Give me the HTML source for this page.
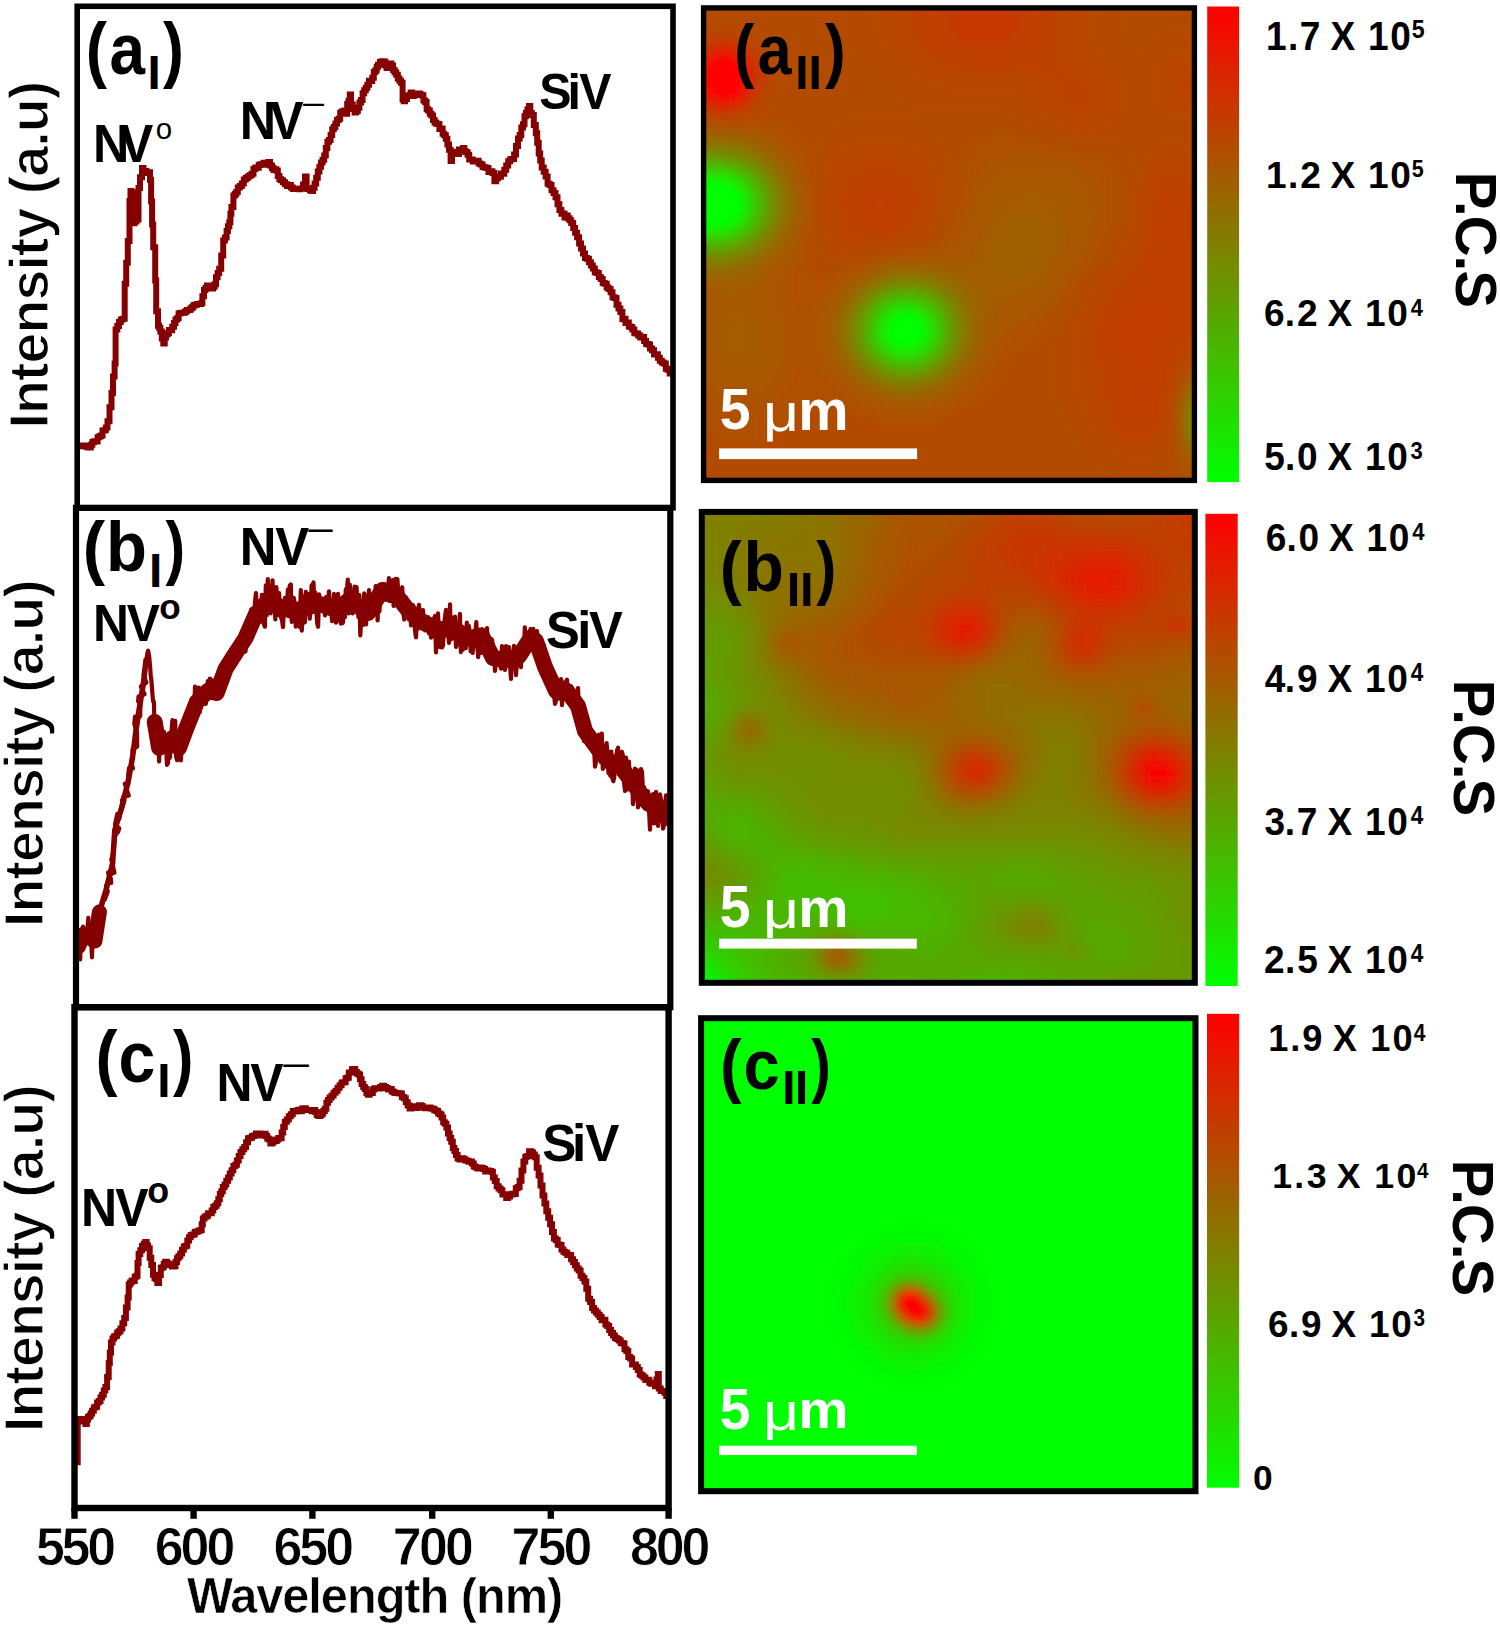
<!DOCTYPE html>
<html><head><meta charset="utf-8"><title>Figure</title>
<style>html,body{margin:0;padding:0;background:#fff;overflow:hidden;} svg{display:block;}</style>
</head><body>
<svg width="1500" height="1625" viewBox="0 0 1500 1625">
<rect x="0" y="0" width="1500" height="1625" fill="#fff"/>
<clipPath id="ha"><rect x="704" y="9" width="490" height="472"/></clipPath>
<filter id="haf" x="660" y="-35" width="578" height="560" filterUnits="userSpaceOnUse"><feGaussianBlur stdDeviation="4"/></filter>
<g clip-path="url(#ha)"><g filter="url(#haf)">
<path fill="rgb(178,76,0)" d="M680 -15h176v8h-176zM1112 -15h112v8h-112zM680 -7h168v8h-168zM1112 -7h112v8h-112zM680 1h168v8h-168zM1120 1h104v8h-104zM680 9h168v8h-168zM1120 9h104v8h-104zM680 17h168v8h-168zM1120 17h104v8h-104zM680 25h16v8h-16zM752 25h96v8h-96zM1120 25h104v8h-104zM680 33h8v8h-8zM760 33h88v8h-88zM1120 33h48v8h-48zM1200 33h24v8h-24zM768 41h88v8h-88zM1128 41h24v8h-24zM1208 41h16v8h-16zM768 49h88v8h-88zM1136 49h8v8h-8zM1216 49h8v8h-8zM776 57h88v8h-88zM776 65h96v8h-96zM776 73h104v8h-104zM776 81h112v8h-112zM776 89h120v8h-120zM768 97h144v8h-144zM680 105h8v8h-8zM768 105h240v8h-240zM688 113h16v8h-16zM752 113h272v8h-272zM1216 113h8v8h-8zM784 121h64v8h-64zM920 121h120v8h-120zM1216 121h8v8h-8zM792 129h40v8h-40zM928 129h64v8h-64zM1016 129h40v8h-40zM1208 129h16v8h-16zM800 137h24v8h-24zM936 137h40v8h-40zM1040 137h88v8h-88zM1216 137h8v8h-8zM808 145h16v8h-16zM936 145h32v8h-32zM1072 145h64v8h-64zM1216 145h8v8h-8zM808 153h16v8h-16zM944 153h24v8h-24zM1104 153h32v8h-32zM1216 153h8v8h-8zM808 161h8v8h-8zM944 161h16v8h-16zM1112 161h24v8h-24zM808 169h8v8h-8zM944 169h16v8h-16zM1120 169h16v8h-16zM944 177h16v8h-16zM1120 177h8v8h-8zM944 185h16v8h-16zM1120 185h8v8h-8zM944 193h16v8h-16zM1120 193h8v8h-8zM944 201h8v8h-8zM1120 201h8v8h-8zM944 209h8v8h-8zM1120 209h8v8h-8zM944 217h8v8h-8zM1120 217h8v8h-8zM936 225h8v8h-8zM1112 225h16v8h-16zM808 233h8v8h-8zM928 233h16v8h-16zM1112 233h8v8h-8zM808 241h16v8h-16zM912 241h16v8h-16zM1104 241h16v8h-16zM808 249h16v8h-16zM872 249h24v8h-24zM1104 249h8v8h-8zM808 257h56v8h-56zM1096 257h16v8h-16zM808 265h32v8h-32zM1088 265h16v8h-16zM816 273h8v8h-8zM1088 273h8v8h-8zM1080 281h8v8h-8zM1072 289h16v8h-16zM1072 297h8v8h-8zM1064 305h16v8h-16zM1056 313h16v8h-16zM1056 321h16v8h-16zM1048 329h16v8h-16zM1040 337h24v8h-24zM1032 345h24v8h-24zM1016 353h40v8h-40zM1200 353h8v8h-8zM1008 361h48v8h-48zM1184 361h8v8h-8zM1208 361h16v8h-16zM1000 369h56v8h-56zM1216 369h8v8h-8zM1000 377h56v8h-56zM1176 377h8v8h-8zM992 385h64v8h-64zM984 393h72v8h-72zM808 401h32v8h-32zM976 401h88v8h-88zM800 409h48v8h-48zM960 409h104v8h-104zM680 417h8v8h-8zM792 417h80v8h-80zM944 417h128v8h-128zM680 425h16v8h-16zM784 425h288v8h-288zM680 433h32v8h-32zM768 433h312v8h-312zM680 441h400v8h-400zM1168 441h8v8h-8zM680 449h408v8h-408zM1168 449h8v8h-8zM680 457h416v8h-416zM1168 457h8v8h-8zM680 465h432v8h-432zM1160 465h16v8h-16zM1216 465h8v8h-8zM680 473h504v8h-504zM1216 473h8v8h-8zM680 481h512v8h-512zM1208 481h16v8h-16zM680 489h544v8h-544zM680 497h544v8h-544z"/>
<path fill="rgb(182,73,0)" d="M856 -15h32v8h-32zM1072 -15h40v8h-40zM848 -7h40v8h-40zM1080 -7h32v8h-32zM848 1h32v8h-32zM1080 1h40v8h-40zM848 9h32v8h-32zM1088 9h32v8h-32zM848 17h32v8h-32zM1088 17h32v8h-32zM696 25h56v8h-56zM848 25h32v8h-32zM1088 25h32v8h-32zM688 33h8v8h-8zM752 33h8v8h-8zM848 33h40v8h-40zM1088 33h32v8h-32zM1168 33h32v8h-32zM680 41h8v8h-8zM760 41h8v8h-8zM856 41h32v8h-32zM1088 41h40v8h-40zM1152 41h56v8h-56zM680 49h8v8h-8zM760 49h8v8h-8zM856 49h40v8h-40zM1096 49h40v8h-40zM1144 49h72v8h-72zM768 57h8v8h-8zM864 57h40v8h-40zM1096 57h72v8h-72zM1200 57h24v8h-24zM768 65h8v8h-8zM872 65h40v8h-40zM1104 65h56v8h-56zM1208 65h16v8h-16zM768 73h8v8h-8zM880 73h48v8h-48zM1112 73h48v8h-48zM1208 73h16v8h-16zM768 81h8v8h-8zM888 81h64v8h-64zM1120 81h40v8h-40zM1208 81h16v8h-16zM768 89h8v8h-8zM896 89h128v8h-128zM1120 89h40v8h-40zM1208 89h16v8h-16zM680 97h8v8h-8zM760 97h8v8h-8zM912 97h120v8h-120zM1120 97h40v8h-40zM1208 97h16v8h-16zM688 105h8v8h-8zM760 105h8v8h-8zM1008 105h32v8h-32zM1120 105h48v8h-48zM1200 105h24v8h-24zM744 113h8v8h-8zM1024 113h32v8h-32zM1112 113h104v8h-104zM848 121h72v8h-72zM1040 121h32v8h-32zM1096 121h120v8h-120zM832 129h96v8h-96zM1056 129h152v8h-152zM824 137h112v8h-112zM1128 137h88v8h-88zM824 145h32v8h-32zM904 145h32v8h-32zM1136 145h24v8h-24zM1184 145h32v8h-32zM824 153h16v8h-16zM920 153h24v8h-24zM1136 153h16v8h-16zM1192 153h24v8h-24zM816 161h16v8h-16zM928 161h16v8h-16zM1136 161h16v8h-16zM1200 161h24v8h-24zM816 169h16v8h-16zM928 169h16v8h-16zM1136 169h8v8h-8zM1200 169h24v8h-24zM816 177h16v8h-16zM936 177h8v8h-8zM1128 177h16v8h-16zM1208 177h16v8h-16zM816 185h8v8h-8zM936 185h8v8h-8zM1128 185h16v8h-16zM1208 185h16v8h-16zM816 193h8v8h-8zM936 193h8v8h-8zM1128 193h8v8h-8zM1208 193h16v8h-16zM816 201h8v8h-8zM936 201h8v8h-8zM1128 201h8v8h-8zM1216 201h8v8h-8zM816 209h8v8h-8zM936 209h8v8h-8zM1128 209h8v8h-8zM1216 209h8v8h-8zM816 217h8v8h-8zM928 217h16v8h-16zM1128 217h8v8h-8zM1216 217h8v8h-8zM816 225h16v8h-16zM928 225h8v8h-8zM1128 225h8v8h-8zM1216 225h8v8h-8zM816 233h16v8h-16zM912 233h16v8h-16zM1120 233h16v8h-16zM1216 233h8v8h-8zM824 241h16v8h-16zM888 241h24v8h-24zM1120 241h8v8h-8zM1216 241h8v8h-8zM824 249h48v8h-48zM1112 249h16v8h-16zM1208 249h16v8h-16zM1112 257h8v8h-8zM1208 257h16v8h-16zM1104 265h8v8h-8zM1208 265h16v8h-16zM1096 273h8v8h-8zM1208 273h16v8h-16zM1088 281h16v8h-16zM1208 281h16v8h-16zM1088 289h8v8h-8zM1208 289h16v8h-16zM1080 297h8v8h-8zM1208 297h16v8h-16zM1080 305h8v8h-8zM1216 305h8v8h-8zM1072 313h8v8h-8zM1216 313h8v8h-8zM1072 321h8v8h-8zM1208 321h16v8h-16zM1064 329h16v8h-16zM1208 329h16v8h-16zM1064 337h16v8h-16zM1208 337h16v8h-16zM1056 345h24v8h-24zM1200 345h24v8h-24zM1056 353h24v8h-24zM1192 353h8v8h-8zM1208 353h16v8h-16zM1056 361h24v8h-24zM1056 369h24v8h-24zM1176 369h8v8h-8zM1056 377h24v8h-24zM1056 385h24v8h-24zM1056 393h32v8h-32zM1064 401h24v8h-24zM1168 401h8v8h-8zM1064 409h24v8h-24zM1168 409h8v8h-8zM1072 417h24v8h-24zM1168 417h8v8h-8zM1072 425h24v8h-24zM1168 425h8v8h-8zM1080 433h24v8h-24zM1168 433h8v8h-8zM1080 441h32v8h-32zM1160 441h8v8h-8zM1088 449h40v8h-40zM1152 449h16v8h-16zM1096 457h72v8h-72zM1112 465h48v8h-48z"/>
<path fill="rgb(185,70,0)" d="M888 -15h24v8h-24zM1048 -15h24v8h-24zM888 -7h24v8h-24zM1056 -7h24v8h-24zM880 1h24v8h-24zM1064 1h16v8h-16zM880 9h24v8h-24zM1064 9h24v8h-24zM880 17h24v8h-24zM1064 17h24v8h-24zM880 25h24v8h-24zM1064 25h24v8h-24zM696 33h8v8h-8zM744 33h8v8h-8zM888 33h16v8h-16zM1064 33h24v8h-24zM688 41h8v8h-8zM752 41h8v8h-8zM888 41h24v8h-24zM1064 41h24v8h-24zM896 49h24v8h-24zM1064 49h32v8h-32zM680 57h8v8h-8zM760 57h8v8h-8zM904 57h24v8h-24zM1064 57h32v8h-32zM1168 57h32v8h-32zM912 65h32v8h-32zM1064 65h40v8h-40zM1160 65h48v8h-48zM928 73h120v8h-120zM1080 73h32v8h-32zM1160 73h16v8h-16zM1192 73h16v8h-16zM952 81h104v8h-104zM1088 81h32v8h-32zM1160 81h16v8h-16zM1200 81h8v8h-8zM680 89h8v8h-8zM760 89h8v8h-8zM1024 89h32v8h-32zM1096 89h24v8h-24zM1160 89h16v8h-16zM1192 89h16v8h-16zM1032 97h24v8h-24zM1096 97h24v8h-24zM1160 97h48v8h-48zM752 105h8v8h-8zM1040 105h32v8h-32zM1088 105h32v8h-32zM1168 105h32v8h-32zM704 113h8v8h-8zM736 113h8v8h-8zM1056 113h56v8h-56zM1072 121h24v8h-24zM856 145h48v8h-48zM1160 145h24v8h-24zM840 153h80v8h-80zM1152 153h40v8h-40zM832 161h32v8h-32zM896 161h32v8h-32zM1152 161h48v8h-48zM832 169h16v8h-16zM912 169h16v8h-16zM1144 169h16v8h-16zM1184 169h16v8h-16zM832 177h8v8h-8zM920 177h16v8h-16zM1144 177h8v8h-8zM1192 177h16v8h-16zM824 185h16v8h-16zM920 185h16v8h-16zM1144 185h8v8h-8zM1200 185h8v8h-8zM824 193h16v8h-16zM928 193h8v8h-8zM1136 193h16v8h-16zM1200 193h8v8h-8zM824 201h8v8h-8zM928 201h8v8h-8zM1136 201h8v8h-8zM1200 201h16v8h-16zM824 209h16v8h-16zM920 209h16v8h-16zM1136 209h8v8h-8zM1200 209h16v8h-16zM824 217h16v8h-16zM920 217h8v8h-8zM1136 217h8v8h-8zM1200 217h16v8h-16zM832 225h8v8h-8zM912 225h16v8h-16zM1136 225h8v8h-8zM1200 225h16v8h-16zM832 233h16v8h-16zM896 233h16v8h-16zM1136 233h8v8h-8zM1200 233h16v8h-16zM840 241h48v8h-48zM1128 241h16v8h-16zM1200 241h16v8h-16zM1128 249h8v8h-8zM1200 249h8v8h-8zM1120 257h16v8h-16zM1200 257h8v8h-8zM1112 265h16v8h-16zM1200 265h8v8h-8zM1104 273h16v8h-16zM1192 273h16v8h-16zM1104 281h8v8h-8zM1192 281h16v8h-16zM1096 289h8v8h-8zM1192 289h16v8h-16zM1088 297h16v8h-16zM1200 297h8v8h-8zM1088 305h8v8h-8zM1200 305h16v8h-16zM1080 313h16v8h-16zM1200 313h16v8h-16zM1080 321h16v8h-16zM1192 321h16v8h-16zM1080 329h8v8h-8zM1192 329h16v8h-16zM1080 337h8v8h-8zM1192 337h16v8h-16zM1080 345h8v8h-8zM1184 345h16v8h-16zM1080 353h8v8h-8zM1184 353h8v8h-8zM1080 361h16v8h-16zM1176 361h8v8h-8zM1080 369h16v8h-16zM1080 377h16v8h-16zM1080 385h16v8h-16zM1168 385h8v8h-8zM1088 393h8v8h-8zM1168 393h8v8h-8zM1088 401h16v8h-16zM1088 409h16v8h-16zM1096 417h8v8h-8zM1096 425h16v8h-16zM1160 425h8v8h-8zM1104 433h16v8h-16zM1152 433h16v8h-16zM1112 441h48v8h-48zM1128 449h24v8h-24z"/>
<path fill="rgb(188,67,0)" d="M912 -15h24v8h-24zM1032 -15h16v8h-16zM912 -7h16v8h-16zM1040 -7h16v8h-16zM904 1h16v8h-16zM1048 1h16v8h-16zM904 9h16v8h-16zM1048 9h16v8h-16zM904 17h16v8h-16zM1048 17h16v8h-16zM904 25h16v8h-16zM1048 25h16v8h-16zM704 33h8v8h-8zM736 33h8v8h-8zM904 33h16v8h-16zM1048 33h16v8h-16zM912 41h16v8h-16zM1040 41h24v8h-24zM688 49h8v8h-8zM752 49h8v8h-8zM920 49h16v8h-16zM1032 49h32v8h-32zM928 57h32v8h-32zM1016 57h48v8h-48zM680 65h8v8h-8zM760 65h8v8h-8zM944 65h120v8h-120zM680 73h8v8h-8zM760 73h8v8h-8zM1048 73h32v8h-32zM1176 73h16v8h-16zM680 81h8v8h-8zM760 81h8v8h-8zM1056 81h32v8h-32zM1176 81h24v8h-24zM1056 89h40v8h-40zM1176 89h16v8h-16zM1056 97h40v8h-40zM1072 105h16v8h-16zM712 113h24v8h-24zM864 161h32v8h-32zM848 169h64v8h-64zM1160 169h24v8h-24zM840 177h24v8h-24zM896 177h24v8h-24zM1152 177h40v8h-40zM840 185h16v8h-16zM904 185h16v8h-16zM1152 185h16v8h-16zM1176 185h24v8h-24zM840 193h8v8h-8zM912 193h16v8h-16zM1152 193h8v8h-8zM1184 193h16v8h-16zM832 201h16v8h-16zM912 201h16v8h-16zM1144 201h16v8h-16zM1184 201h16v8h-16zM840 209h8v8h-8zM912 209h8v8h-8zM1144 209h16v8h-16zM1192 209h8v8h-8zM840 217h16v8h-16zM904 217h16v8h-16zM1144 217h8v8h-8zM1192 217h8v8h-8zM840 225h24v8h-24zM888 225h24v8h-24zM1144 225h8v8h-8zM1192 225h8v8h-8zM848 233h48v8h-48zM1144 233h8v8h-8zM1192 233h8v8h-8zM1144 241h8v8h-8zM1184 241h16v8h-16zM1136 249h16v8h-16zM1184 249h16v8h-16zM1136 257h8v8h-8zM1184 257h16v8h-16zM1128 265h16v8h-16zM1184 265h16v8h-16zM1120 273h16v8h-16zM1184 273h8v8h-8zM1112 281h16v8h-16zM1184 281h8v8h-8zM1104 289h16v8h-16zM1184 289h8v8h-8zM1104 297h8v8h-8zM1184 297h16v8h-16zM1096 305h16v8h-16zM1184 305h16v8h-16zM1096 313h8v8h-8zM1184 313h16v8h-16zM1096 321h8v8h-8zM1184 321h8v8h-8zM1088 329h16v8h-16zM1184 329h8v8h-8zM1088 337h16v8h-16zM1176 337h16v8h-16zM1088 345h16v8h-16zM1176 345h8v8h-8zM1088 353h16v8h-16zM1176 353h8v8h-8zM1096 361h16v8h-16zM1168 361h8v8h-8zM1096 369h16v8h-16zM1168 369h8v8h-8zM1096 377h16v8h-16zM1168 377h8v8h-8zM1096 385h16v8h-16zM1096 393h16v8h-16zM1160 393h8v8h-8zM1104 401h8v8h-8zM1160 401h8v8h-8zM1104 409h16v8h-16zM1160 409h8v8h-8zM1104 417h16v8h-16zM1152 417h16v8h-16zM1112 425h48v8h-48zM1120 433h32v8h-32z"/>
<path fill="rgb(191,64,0)" d="M936 -15h24v8h-24zM1000 -15h32v8h-32zM928 -7h16v8h-16zM1016 -7h24v8h-24zM920 1h16v8h-16zM1032 1h16v8h-16zM920 9h16v8h-16zM1032 9h16v8h-16zM920 17h16v8h-16zM1032 17h16v8h-16zM920 25h16v8h-16zM1032 25h16v8h-16zM712 33h24v8h-24zM920 33h16v8h-16zM1024 33h24v8h-24zM696 41h8v8h-8zM744 41h8v8h-8zM928 41h24v8h-24zM1016 41h24v8h-24zM936 49h40v8h-40zM992 49h40v8h-40zM960 57h56v8h-56zM688 97h8v8h-8zM752 97h8v8h-8zM696 105h8v8h-8zM744 105h8v8h-8zM864 177h32v8h-32zM856 185h48v8h-48zM1168 185h8v8h-8zM848 193h64v8h-64zM1160 193h24v8h-24zM848 201h24v8h-24zM888 201h24v8h-24zM1160 201h24v8h-24zM848 209h64v8h-64zM1160 209h32v8h-32zM856 217h48v8h-48zM1152 217h40v8h-40zM864 225h24v8h-24zM1152 225h40v8h-40zM1152 233h40v8h-40zM1152 241h32v8h-32zM1152 249h32v8h-32zM1144 257h40v8h-40zM1144 265h40v8h-40zM1136 273h48v8h-48zM1128 281h56v8h-56zM1120 289h24v8h-24zM1160 289h24v8h-24zM1112 297h24v8h-24zM1160 297h24v8h-24zM1112 305h16v8h-16zM1168 305h16v8h-16zM1104 313h16v8h-16zM1168 313h16v8h-16zM1104 321h16v8h-16zM1168 321h16v8h-16zM1104 329h16v8h-16zM1168 329h16v8h-16zM1104 337h16v8h-16zM1160 337h16v8h-16zM1104 345h16v8h-16zM1160 345h16v8h-16zM1104 353h24v8h-24zM1152 353h24v8h-24zM1112 361h16v8h-16zM1152 361h16v8h-16zM1112 369h16v8h-16zM1144 369h24v8h-24zM1112 377h24v8h-24zM1144 377h24v8h-24zM1112 385h24v8h-24zM1144 385h24v8h-24zM1112 393h24v8h-24zM1144 393h16v8h-16zM1112 401h48v8h-48zM1120 409h40v8h-40zM1120 417h32v8h-32z"/>
<path fill="rgb(194,61,0)" d="M960 -15h40v8h-40zM944 -7h72v8h-72zM936 1h24v8h-24zM1008 1h24v8h-24zM936 9h16v8h-16zM1016 9h16v8h-16zM936 17h16v8h-16zM1016 17h16v8h-16zM936 25h16v8h-16zM1016 25h16v8h-16zM936 33h24v8h-24zM1008 33h16v8h-16zM952 41h64v8h-64zM976 49h16v8h-16zM872 201h16v8h-16zM1144 289h16v8h-16zM1136 297h24v8h-24zM1128 305h40v8h-40zM1120 313h48v8h-48zM1120 321h48v8h-48zM1120 329h48v8h-48zM1120 337h40v8h-40zM1120 345h40v8h-40zM1128 353h24v8h-24zM1128 361h24v8h-24zM1128 369h16v8h-16zM1136 377h8v8h-8zM1136 385h8v8h-8zM1136 393h8v8h-8z"/>
<path fill="rgb(198,57,0)" d="M960 1h48v8h-48zM952 9h64v8h-64zM952 17h64v8h-64zM952 25h64v8h-64zM960 33h48v8h-48zM704 41h8v8h-8zM736 41h8v8h-8zM688 57h8v8h-8zM752 57h8v8h-8zM688 89h8v8h-8zM752 89h8v8h-8zM704 105h8v8h-8zM736 105h8v8h-8z"/>
<path fill="rgb(204,51,0)" d="M712 41h8v8h-8zM728 41h8v8h-8zM688 73h8v8h-8zM752 73h8v8h-8zM688 81h8v8h-8zM752 81h8v8h-8zM696 97h8v8h-8zM744 97h8v8h-8z"/>
<path fill="rgb(207,48,0)" d="M720 41h8v8h-8zM712 105h8v8h-8zM728 105h8v8h-8z"/>
<path fill="rgb(201,54,0)" d="M696 49h8v8h-8zM744 49h8v8h-8zM688 65h8v8h-8zM752 65h8v8h-8z"/>
<path fill="rgb(214,41,0)" d="M704 49h8v8h-8zM736 49h8v8h-8zM696 57h8v8h-8zM744 57h8v8h-8z"/>
<path fill="rgb(226,29,0)" d="M712 49h8v8h-8zM728 49h8v8h-8zM696 65h8v8h-8zM744 65h8v8h-8zM696 81h8v8h-8zM744 81h8v8h-8z"/>
<path fill="rgb(233,22,0)" d="M720 49h8v8h-8zM712 97h8v8h-8zM728 97h8v8h-8z"/>
<path fill="rgb(236,19,0)" d="M704 57h8v8h-8zM736 57h8v8h-8z"/>
<path fill="rgb(255,0,0)" d="M712 57h24v8h-24zM704 65h40v8h-40zM704 73h40v8h-40zM704 81h40v8h-40zM712 89h24v8h-24z"/>
<path fill="rgb(230,26,0)" d="M696 73h8v8h-8zM744 73h8v8h-8z"/>
<path fill="rgb(217,38,0)" d="M696 89h8v8h-8zM744 89h8v8h-8z"/>
<path fill="rgb(242,13,0)" d="M704 89h8v8h-8zM736 89h8v8h-8z"/>
<path fill="rgb(220,35,0)" d="M704 97h8v8h-8zM736 97h8v8h-8z"/>
<path fill="rgb(239,16,0)" d="M720 97h8v8h-8z"/>
<path fill="rgb(210,45,0)" d="M720 105h8v8h-8z"/>
<path fill="rgb(175,80,0)" d="M680 113h8v8h-8zM720 121h64v8h-64zM776 129h16v8h-16zM992 129h24v8h-24zM784 137h16v8h-16zM976 137h64v8h-64zM792 145h16v8h-16zM968 145h104v8h-104zM800 153h8v8h-8zM968 153h24v8h-24zM1056 153h48v8h-48zM800 161h8v8h-8zM960 161h24v8h-24zM1080 161h32v8h-32zM960 169h16v8h-16zM1096 169h24v8h-24zM808 177h8v8h-8zM960 177h16v8h-16zM1104 177h16v8h-16zM808 185h8v8h-8zM960 185h8v8h-8zM1104 185h16v8h-16zM808 193h8v8h-8zM960 193h8v8h-8zM1104 193h16v8h-16zM808 201h8v8h-8zM952 201h16v8h-16zM1104 201h16v8h-16zM808 209h8v8h-8zM952 209h8v8h-8zM1104 209h16v8h-16zM808 217h8v8h-8zM952 217h8v8h-8zM1104 217h16v8h-16zM808 225h8v8h-8zM944 225h16v8h-16zM1104 225h8v8h-8zM944 233h8v8h-8zM1096 233h16v8h-16zM800 241h8v8h-8zM928 241h16v8h-16zM1096 241h8v8h-8zM800 249h8v8h-8zM896 249h24v8h-24zM1088 249h16v8h-16zM800 257h8v8h-8zM864 257h8v8h-8zM1088 257h8v8h-8zM792 265h16v8h-16zM840 265h16v8h-16zM1080 265h8v8h-8zM792 273h24v8h-24zM824 273h16v8h-16zM1072 273h16v8h-16zM792 281h40v8h-40zM1072 281h8v8h-8zM792 289h32v8h-32zM1064 289h8v8h-8zM792 297h24v8h-24zM1056 297h16v8h-16zM800 305h8v8h-8zM1048 305h16v8h-16zM1040 313h16v8h-16zM1032 321h24v8h-24zM1016 329h32v8h-32zM1008 337h32v8h-32zM1000 345h32v8h-32zM1000 353h16v8h-16zM800 361h16v8h-16zM992 361h16v8h-16zM1192 361h16v8h-16zM680 369h8v8h-8zM792 369h32v8h-32zM984 369h16v8h-16zM1184 369h8v8h-8zM1208 369h8v8h-8zM680 377h8v8h-8zM792 377h40v8h-40zM976 377h24v8h-24zM1216 377h8v8h-8zM680 385h16v8h-16zM784 385h56v8h-56zM976 385h16v8h-16zM1176 385h8v8h-8zM1216 385h8v8h-8zM680 393h24v8h-24zM776 393h72v8h-72zM960 393h24v8h-24zM680 401h32v8h-32zM768 401h40v8h-40zM840 401h24v8h-24zM952 401h24v8h-24zM680 409h56v8h-56zM744 409h56v8h-56zM848 409h32v8h-32zM928 409h32v8h-32zM688 417h104v8h-104zM872 417h72v8h-72zM696 425h88v8h-88zM712 433h56v8h-56zM1216 449h8v8h-8zM1176 457h8v8h-8zM1216 457h8v8h-8zM1176 465h8v8h-8zM1208 465h8v8h-8zM1184 473h8v8h-8zM1208 473h8v8h-8zM1192 481h16v8h-16z"/>
<path fill="rgb(172,83,0)" d="M680 121h40v8h-40zM760 129h16v8h-16zM776 137h8v8h-8zM784 145h8v8h-8zM792 153h8v8h-8zM992 153h64v8h-64zM984 161h96v8h-96zM800 169h8v8h-8zM976 169h24v8h-24zM1064 169h32v8h-32zM800 177h8v8h-8zM976 177h16v8h-16zM1080 177h24v8h-24zM968 185h16v8h-16zM1088 185h16v8h-16zM968 193h8v8h-8zM1088 193h16v8h-16zM968 201h8v8h-8zM1088 201h16v8h-16zM960 209h16v8h-16zM1096 209h8v8h-8zM960 217h8v8h-8zM1088 217h16v8h-16zM800 225h8v8h-8zM960 225h8v8h-8zM1088 225h16v8h-16zM800 233h8v8h-8zM952 233h8v8h-8zM1088 233h8v8h-8zM944 241h16v8h-16zM1088 241h8v8h-8zM792 249h8v8h-8zM920 249h32v8h-32zM1080 249h8v8h-8zM792 257h8v8h-8zM872 257h16v8h-16zM1072 257h16v8h-16zM784 265h8v8h-8zM856 265h8v8h-8zM1072 265h8v8h-8zM776 273h16v8h-16zM840 273h8v8h-8zM1064 273h8v8h-8zM776 281h16v8h-16zM832 281h8v8h-8zM1056 281h16v8h-16zM680 289h8v8h-8zM776 289h16v8h-16zM824 289h8v8h-8zM1056 289h8v8h-8zM680 297h8v8h-8zM776 297h16v8h-16zM816 297h8v8h-8zM1048 297h8v8h-8zM680 305h16v8h-16zM776 305h24v8h-24zM808 305h16v8h-16zM1032 305h16v8h-16zM680 313h16v8h-16zM784 313h40v8h-40zM1024 313h16v8h-16zM680 321h16v8h-16zM784 321h32v8h-32zM1008 321h24v8h-24zM680 329h16v8h-16zM784 329h32v8h-32zM1000 329h16v8h-16zM680 337h16v8h-16zM784 337h32v8h-32zM992 337h16v8h-16zM680 345h16v8h-16zM784 345h40v8h-40zM992 345h8v8h-8zM680 353h16v8h-16zM784 353h40v8h-40zM984 353h16v8h-16zM680 361h16v8h-16zM776 361h24v8h-24zM816 361h16v8h-16zM984 361h8v8h-8zM688 369h16v8h-16zM776 369h16v8h-16zM824 369h8v8h-8zM976 369h8v8h-8zM688 377h24v8h-24zM768 377h24v8h-24zM832 377h8v8h-8zM968 377h8v8h-8zM696 385h24v8h-24zM760 385h24v8h-24zM840 385h8v8h-8zM960 385h16v8h-16zM704 393h72v8h-72zM848 393h16v8h-16zM952 393h8v8h-8zM1176 393h8v8h-8zM1216 393h8v8h-8zM712 401h56v8h-56zM864 401h16v8h-16zM936 401h16v8h-16zM1216 401h8v8h-8zM736 409h8v8h-8zM880 409h48v8h-48zM1216 433h8v8h-8zM1216 441h8v8h-8zM1176 449h8v8h-8zM1184 465h8v8h-8zM1192 473h16v8h-16z"/>
<path fill="rgb(166,89,0)" d="M680 129h8v8h-8zM736 129h16v8h-16zM760 137h8v8h-8zM792 169h8v8h-8zM1000 185h56v8h-56zM992 193h32v8h-32zM1040 193h32v8h-32zM992 201h16v8h-16zM1056 201h16v8h-16zM984 209h16v8h-16zM1056 209h24v8h-24zM976 217h16v8h-16zM1064 217h16v8h-16zM792 225h8v8h-8zM976 225h8v8h-8zM1064 225h16v8h-16zM792 233h8v8h-8zM976 233h8v8h-8zM1064 233h8v8h-8zM968 241h16v8h-16zM1064 241h8v8h-8zM968 249h8v8h-8zM1056 249h16v8h-16zM776 257h8v8h-8zM904 257h72v8h-72zM1056 257h8v8h-8zM768 265h8v8h-8zM872 265h8v8h-8zM1048 265h8v8h-8zM760 273h8v8h-8zM856 273h8v8h-8zM1040 273h16v8h-16zM688 281h16v8h-16zM752 281h8v8h-8zM1032 281h16v8h-16zM704 289h24v8h-24zM736 289h24v8h-24zM1016 289h24v8h-24zM712 297h48v8h-48zM832 297h8v8h-8zM1000 297h24v8h-24zM712 305h48v8h-48zM992 305h16v8h-16zM712 313h16v8h-16zM744 313h24v8h-24zM824 313h8v8h-8zM992 313h8v8h-8zM704 321h24v8h-24zM752 321h16v8h-16zM824 321h8v8h-8zM704 329h16v8h-16zM752 329h16v8h-16zM824 329h8v8h-8zM984 329h8v8h-8zM704 337h16v8h-16zM752 337h16v8h-16zM824 337h8v8h-8zM984 337h8v8h-8zM704 345h24v8h-24zM752 345h16v8h-16zM824 345h8v8h-8zM712 353h56v8h-56zM976 353h8v8h-8zM712 361h48v8h-48zM832 361h8v8h-8zM728 369h24v8h-24zM840 369h8v8h-8zM968 369h8v8h-8zM960 377h8v8h-8zM1184 377h8v8h-8zM856 385h8v8h-8zM872 393h8v8h-8zM936 393h8v8h-8zM896 401h16v8h-16zM1176 409h8v8h-8zM1176 417h8v8h-8zM1176 425h8v8h-8zM1176 433h8v8h-8zM1208 449h8v8h-8zM1184 457h8v8h-8z"/>
<path fill="rgb(163,92,0)" d="M688 129h16v8h-16zM712 129h24v8h-24zM752 137h8v8h-8zM768 145h8v8h-8zM776 153h8v8h-8zM784 161h8v8h-8zM792 177h8v8h-8zM792 185h8v8h-8zM1024 193h16v8h-16zM1008 201h48v8h-48zM1000 209h56v8h-56zM792 217h8v8h-8zM992 217h16v8h-16zM1040 217h24v8h-24zM984 225h16v8h-16zM1048 225h16v8h-16zM984 233h16v8h-16zM1048 233h16v8h-16zM784 241h8v8h-8zM984 241h8v8h-8zM1048 241h16v8h-16zM776 249h8v8h-8zM976 249h16v8h-16zM1040 249h16v8h-16zM768 257h8v8h-8zM976 257h16v8h-16zM1040 257h16v8h-16zM760 265h8v8h-8zM944 265h48v8h-48zM1032 265h16v8h-16zM680 273h8v8h-8zM752 273h8v8h-8zM968 273h32v8h-32zM1024 273h16v8h-16zM704 281h48v8h-48zM848 281h8v8h-8zM976 281h56v8h-56zM728 289h8v8h-8zM840 289h8v8h-8zM984 289h32v8h-32zM984 297h16v8h-16zM832 305h8v8h-8zM984 305h8v8h-8zM728 313h16v8h-16zM984 313h8v8h-8zM728 321h24v8h-24zM984 321h8v8h-8zM720 329h32v8h-32zM720 337h32v8h-32zM728 345h24v8h-24zM976 345h8v8h-8zM832 353h8v8h-8zM968 361h8v8h-8zM960 369h8v8h-8zM848 377h8v8h-8zM952 377h8v8h-8zM944 385h8v8h-8zM1208 385h8v8h-8zM880 393h8v8h-8zM928 393h8v8h-8zM1200 457h8v8h-8z"/>
<path fill="rgb(159,96,0)" d="M704 129h8v8h-8zM784 169h8v8h-8zM792 193h8v8h-8zM792 201h8v8h-8zM792 209h8v8h-8zM1008 217h32v8h-32zM1000 225h48v8h-48zM784 233h8v8h-8zM1000 233h48v8h-48zM992 241h56v8h-56zM992 249h48v8h-48zM992 257h48v8h-48zM880 265h8v8h-8zM936 265h8v8h-8zM992 265h40v8h-40zM688 273h16v8h-16zM736 273h16v8h-16zM864 273h8v8h-8zM960 273h8v8h-8zM1000 273h24v8h-24zM968 281h8v8h-8zM976 289h8v8h-8zM976 297h8v8h-8zM976 305h8v8h-8zM832 313h8v8h-8zM976 321h8v8h-8zM976 329h8v8h-8zM832 337h8v8h-8zM976 337h8v8h-8zM832 345h8v8h-8zM968 353h8v8h-8zM840 361h8v8h-8zM856 377h8v8h-8zM1200 377h8v8h-8zM864 385h8v8h-8zM936 385h8v8h-8zM888 393h40v8h-40zM1208 441h8v8h-8zM1184 449h8v8h-8zM1192 457h8v8h-8z"/>
<path fill="rgb(169,86,0)" d="M752 129h8v8h-8zM768 137h8v8h-8zM776 145h8v8h-8zM784 153h8v8h-8zM792 161h8v8h-8zM1000 169h64v8h-64zM992 177h88v8h-88zM800 185h8v8h-8zM984 185h16v8h-16zM1056 185h32v8h-32zM800 193h8v8h-8zM976 193h16v8h-16zM1072 193h16v8h-16zM800 201h8v8h-8zM976 201h16v8h-16zM1072 201h16v8h-16zM800 209h8v8h-8zM976 209h8v8h-8zM1080 209h16v8h-16zM800 217h8v8h-8zM968 217h8v8h-8zM1080 217h8v8h-8zM968 225h8v8h-8zM1080 225h8v8h-8zM960 233h16v8h-16zM1072 233h16v8h-16zM792 241h8v8h-8zM960 241h8v8h-8zM1072 241h16v8h-16zM784 249h8v8h-8zM952 249h16v8h-16zM1072 249h8v8h-8zM784 257h8v8h-8zM888 257h16v8h-16zM1064 257h8v8h-8zM776 265h8v8h-8zM864 265h8v8h-8zM1056 265h16v8h-16zM768 273h8v8h-8zM848 273h8v8h-8zM1056 273h8v8h-8zM680 281h8v8h-8zM760 281h16v8h-16zM840 281h8v8h-8zM1048 281h8v8h-8zM688 289h16v8h-16zM760 289h16v8h-16zM832 289h8v8h-8zM1040 289h16v8h-16zM688 297h24v8h-24zM760 297h16v8h-16zM824 297h8v8h-8zM1024 297h24v8h-24zM696 305h16v8h-16zM760 305h16v8h-16zM824 305h8v8h-8zM1008 305h24v8h-24zM696 313h16v8h-16zM768 313h16v8h-16zM1000 313h24v8h-24zM696 321h8v8h-8zM768 321h16v8h-16zM816 321h8v8h-8zM992 321h16v8h-16zM696 329h8v8h-8zM768 329h16v8h-16zM816 329h8v8h-8zM992 329h8v8h-8zM696 337h8v8h-8zM768 337h16v8h-16zM816 337h8v8h-8zM696 345h8v8h-8zM768 345h16v8h-16zM984 345h8v8h-8zM696 353h16v8h-16zM768 353h16v8h-16zM824 353h8v8h-8zM696 361h16v8h-16zM760 361h16v8h-16zM976 361h8v8h-8zM704 369h24v8h-24zM752 369h24v8h-24zM832 369h8v8h-8zM1192 369h16v8h-16zM712 377h56v8h-56zM840 377h8v8h-8zM1208 377h8v8h-8zM720 385h40v8h-40zM848 385h8v8h-8zM952 385h8v8h-8zM864 393h8v8h-8zM944 393h8v8h-8zM880 401h16v8h-16zM912 401h24v8h-24zM1176 401h8v8h-8zM1216 409h8v8h-8zM1216 417h8v8h-8zM1216 425h8v8h-8zM1176 441h8v8h-8zM1208 457h8v8h-8zM1192 465h16v8h-16z"/>
<path fill="rgb(156,99,0)" d="M680 137h8v8h-8zM744 137h8v8h-8zM760 145h8v8h-8zM768 153h8v8h-8zM776 161h8v8h-8zM784 225h8v8h-8zM776 241h8v8h-8zM768 249h8v8h-8zM760 257h8v8h-8zM680 265h8v8h-8zM752 265h8v8h-8zM888 265h16v8h-16zM920 265h16v8h-16zM704 273h32v8h-32zM952 273h8v8h-8zM856 281h8v8h-8zM960 281h8v8h-8zM848 289h8v8h-8zM968 289h8v8h-8zM840 297h8v8h-8zM976 313h8v8h-8zM832 321h8v8h-8zM832 329h8v8h-8zM960 361h8v8h-8zM848 369h8v8h-8zM1192 377h8v8h-8zM872 385h8v8h-8zM1184 385h8v8h-8zM1208 393h8v8h-8z"/>
<path fill="rgb(150,105,0)" d="M688 137h16v8h-16zM728 137h8v8h-8zM752 145h8v8h-8zM776 169h8v8h-8zM784 185h8v8h-8zM784 217h8v8h-8zM776 233h8v8h-8zM752 257h8v8h-8zM688 265h8v8h-8zM736 265h8v8h-8zM936 273h8v8h-8zM952 281h8v8h-8zM960 289h8v8h-8zM968 305h8v8h-8zM968 313h8v8h-8zM968 329h8v8h-8zM968 337h8v8h-8zM840 345h8v8h-8zM848 361h8v8h-8zM856 369h8v8h-8zM864 377h8v8h-8zM880 385h8v8h-8zM920 385h8v8h-8zM1208 401h8v8h-8zM1208 425h8v8h-8zM1184 441h8v8h-8zM1192 449h8v8h-8z"/>
<path fill="rgb(147,108,0)" d="M704 137h24v8h-24zM760 153h8v8h-8zM768 161h8v8h-8zM784 193h8v8h-8zM784 201h8v8h-8zM784 209h8v8h-8zM768 241h8v8h-8zM760 249h8v8h-8zM696 265h16v8h-16zM720 265h16v8h-16zM880 273h8v8h-8zM864 281h8v8h-8zM848 297h8v8h-8zM960 297h8v8h-8zM840 313h8v8h-8zM968 321h8v8h-8zM840 337h8v8h-8zM960 353h8v8h-8zM936 377h8v8h-8zM888 385h8v8h-8zM912 385h8v8h-8zM1200 385h8v8h-8zM1184 393h8v8h-8zM1208 409h8v8h-8zM1208 417h8v8h-8z"/>
<path fill="rgb(153,102,0)" d="M736 137h8v8h-8zM784 177h8v8h-8zM744 265h8v8h-8zM904 265h16v8h-16zM872 273h8v8h-8zM944 273h8v8h-8zM968 297h8v8h-8zM840 305h8v8h-8zM968 345h8v8h-8zM840 353h8v8h-8zM952 369h8v8h-8zM944 377h8v8h-8zM928 385h8v8h-8zM1208 433h8v8h-8zM1200 449h8v8h-8z"/>
<path fill="rgb(140,115,0)" d="M680 145h8v8h-8zM776 177h8v8h-8zM888 273h8v8h-8zM920 273h8v8h-8zM960 305h8v8h-8zM960 345h8v8h-8zM848 353h8v8h-8zM928 377h8v8h-8zM1184 401h8v8h-8zM1200 441h8v8h-8z"/>
<path fill="rgb(134,121,0)" d="M688 145h8v8h-8zM728 145h8v8h-8zM760 161h8v8h-8zM776 185h8v8h-8zM760 241h8v8h-8zM696 257h8v8h-8zM728 257h8v8h-8zM944 289h8v8h-8zM952 297h8v8h-8zM960 321h8v8h-8zM960 329h8v8h-8zM848 345h8v8h-8zM952 353h8v8h-8zM880 377h8v8h-8zM1200 393h8v8h-8zM1184 409h8v8h-8zM1184 417h8v8h-8z"/>
<path fill="rgb(131,124,0)" d="M696 145h8v8h-8zM720 145h8v8h-8zM776 193h8v8h-8zM776 201h8v8h-8zM776 209h8v8h-8zM704 257h8v8h-8zM720 257h8v8h-8zM864 289h8v8h-8zM856 297h8v8h-8zM848 313h8v8h-8zM944 361h8v8h-8zM936 369h8v8h-8zM920 377h8v8h-8zM1200 433h8v8h-8z"/>
<path fill="rgb(128,128,0)" d="M704 145h16v8h-16zM744 153h8v8h-8zM768 225h8v8h-8zM680 249h8v8h-8zM744 249h8v8h-8zM712 257h8v8h-8zM880 281h8v8h-8zM928 281h8v8h-8zM848 321h8v8h-8zM848 329h8v8h-8zM848 337h8v8h-8zM872 369h8v8h-8zM888 377h8v8h-8zM912 377h8v8h-8zM1192 393h8v8h-8z"/>
<path fill="rgb(137,118,0)" d="M736 145h8v8h-8zM752 153h8v8h-8zM768 169h8v8h-8zM776 217h8v8h-8zM768 233h8v8h-8zM752 249h8v8h-8zM688 257h8v8h-8zM736 257h8v8h-8zM896 273h24v8h-24zM872 281h8v8h-8zM936 281h8v8h-8zM848 305h8v8h-8zM960 313h8v8h-8zM960 337h8v8h-8zM856 361h8v8h-8zM864 369h8v8h-8zM1184 425h8v8h-8zM1192 441h8v8h-8z"/>
<path fill="rgb(143,112,0)" d="M744 145h8v8h-8zM776 225h8v8h-8zM680 257h8v8h-8zM744 257h8v8h-8zM712 265h8v8h-8zM928 273h8v8h-8zM944 281h8v8h-8zM856 289h8v8h-8zM952 289h8v8h-8zM840 321h8v8h-8zM840 329h8v8h-8zM952 361h8v8h-8zM944 369h8v8h-8zM872 377h8v8h-8zM896 385h16v8h-16zM1192 385h8v8h-8zM1184 433h8v8h-8z"/>
<path fill="rgb(121,134,0)" d="M680 153h8v8h-8zM752 161h8v8h-8zM760 169h8v8h-8zM760 233h8v8h-8zM752 241h8v8h-8zM736 249h8v8h-8zM888 281h8v8h-8zM920 281h8v8h-8zM936 289h8v8h-8zM856 305h8v8h-8zM864 361h8v8h-8zM928 369h8v8h-8zM1200 425h8v8h-8z"/>
<path fill="rgb(115,140,0)" d="M688 153h8v8h-8zM896 281h24v8h-24zM864 297h8v8h-8zM952 321h8v8h-8zM952 329h8v8h-8zM856 345h8v8h-8zM944 353h8v8h-8zM936 361h8v8h-8zM880 369h8v8h-8zM1192 401h8v8h-8zM1200 409h8v8h-8zM1200 417h8v8h-8z"/>
<path fill="rgb(108,147,0)" d="M696 153h8v8h-8zM744 161h8v8h-8zM768 201h8v8h-8zM760 225h8v8h-8zM744 241h8v8h-8zM704 249h8v8h-8zM720 249h8v8h-8zM928 289h8v8h-8zM856 337h8v8h-8zM920 369h8v8h-8zM1192 409h8v8h-8z"/>
<path fill="rgb(102,153,0)" d="M704 153h16v8h-16zM752 169h8v8h-8zM936 297h8v8h-8zM856 329h8v8h-8zM944 345h8v8h-8zM912 369h8v8h-8z"/>
<path fill="rgb(105,150,0)" d="M720 153h8v8h-8zM760 177h8v8h-8zM752 233h8v8h-8zM680 241h8v8h-8zM712 249h8v8h-8zM880 289h8v8h-8zM944 305h8v8h-8zM856 321h8v8h-8zM864 353h8v8h-8zM872 361h8v8h-8zM888 369h8v8h-8zM1192 417h8v8h-8z"/>
<path fill="rgb(112,143,0)" d="M728 153h8v8h-8zM768 193h8v8h-8zM768 209h8v8h-8zM696 249h8v8h-8zM728 249h8v8h-8zM856 313h8v8h-8zM1192 425h8v8h-8z"/>
<path fill="rgb(118,137,0)" d="M736 153h8v8h-8zM768 185h8v8h-8zM768 217h8v8h-8zM688 249h8v8h-8zM872 289h8v8h-8zM944 297h8v8h-8zM952 313h8v8h-8zM952 337h8v8h-8z"/>
<path fill="rgb(99,156,0)" d="M680 161h8v8h-8zM736 241h8v8h-8zM864 305h8v8h-8zM928 361h8v8h-8zM896 369h16v8h-16z"/>
<path fill="rgb(89,166,0)" d="M688 161h8v8h-8zM760 209h8v8h-8zM752 225h8v8h-8zM744 233h8v8h-8zM912 289h8v8h-8zM944 321h8v8h-8zM944 329h8v8h-8z"/>
<path fill="rgb(80,175,0)" d="M696 161h8v8h-8zM680 233h8v8h-8zM704 241h8v8h-8zM720 241h8v8h-8zM880 297h8v8h-8zM864 337h8v8h-8zM936 345h8v8h-8zM888 361h8v8h-8z"/>
<path fill="rgb(73,182,0)" d="M704 161h16v8h-16zM752 217h8v8h-8zM736 233h8v8h-8zM912 361h8v8h-8z"/>
<path fill="rgb(77,178,0)" d="M720 161h8v8h-8zM680 169h8v8h-8zM712 241h8v8h-8zM872 305h8v8h-8zM864 321h8v8h-8zM864 329h8v8h-8zM928 353h8v8h-8z"/>
<path fill="rgb(83,172,0)" d="M728 161h8v8h-8zM696 241h8v8h-8zM920 361h8v8h-8z"/>
<path fill="rgb(96,159,0)" d="M736 161h8v8h-8zM760 185h8v8h-8zM760 217h8v8h-8zM920 289h8v8h-8zM872 297h8v8h-8zM944 313h8v8h-8zM936 353h8v8h-8z"/>
<path fill="rgb(61,194,0)" d="M688 169h8v8h-8zM752 193h8v8h-8zM752 209h8v8h-8zM912 297h8v8h-8zM872 313h8v8h-8zM936 321h8v8h-8zM936 329h8v8h-8z"/>
<path fill="rgb(48,207,0)" d="M696 169h8v8h-8zM744 217h8v8h-8zM736 225h8v8h-8zM704 233h8v8h-8zM720 233h8v8h-8zM872 329h8v8h-8z"/>
<path fill="rgb(41,214,0)" d="M704 169h8v8h-8zM720 169h8v8h-8zM736 177h8v8h-8zM896 353h8v8h-8z"/>
<path fill="rgb(38,217,0)" d="M712 169h8v8h-8zM688 225h8v8h-8zM888 305h8v8h-8zM928 337h8v8h-8zM904 353h8v8h-8z"/>
<path fill="rgb(54,201,0)" d="M728 169h8v8h-8zM696 233h8v8h-8zM904 297h8v8h-8zM880 305h8v8h-8zM872 337h8v8h-8zM928 345h8v8h-8z"/>
<path fill="rgb(67,188,0)" d="M736 169h8v8h-8zM744 225h8v8h-8zM688 233h8v8h-8zM936 337h8v8h-8zM872 345h8v8h-8zM880 353h8v8h-8z"/>
<path fill="rgb(86,169,0)" d="M744 169h8v8h-8zM752 177h8v8h-8zM760 193h8v8h-8zM760 201h8v8h-8zM728 241h8v8h-8zM896 289h16v8h-16zM928 297h8v8h-8zM936 305h8v8h-8zM864 313h8v8h-8zM872 353h8v8h-8z"/>
<path fill="rgb(51,204,0)" d="M680 177h8v8h-8zM872 321h8v8h-8zM888 353h8v8h-8z"/>
<path fill="rgb(32,223,0)" d="M688 177h8v8h-8zM680 185h8v8h-8zM744 193h8v8h-8zM928 329h8v8h-8zM920 345h8v8h-8z"/>
<path fill="rgb(16,239,0)" d="M696 177h8v8h-8zM720 225h8v8h-8zM888 313h8v8h-8zM920 337h8v8h-8z"/>
<path fill="rgb(6,249,0)" d="M704 177h16v8h-16zM736 193h8v8h-8zM736 209h8v8h-8zM912 313h8v8h-8zM920 329h8v8h-8zM888 337h8v8h-8z"/>
<path fill="rgb(10,245,0)" d="M720 177h8v8h-8zM688 185h8v8h-8zM920 321h8v8h-8zM904 345h8v8h-8z"/>
<path fill="rgb(22,233,0)" d="M728 177h8v8h-8zM736 217h8v8h-8zM696 225h8v8h-8zM920 313h8v8h-8zM880 321h8v8h-8z"/>
<path fill="rgb(64,191,0)" d="M744 177h8v8h-8zM888 297h8v8h-8zM928 305h8v8h-8z"/>
<path fill="rgb(124,131,0)" d="M768 177h8v8h-8zM952 305h8v8h-8zM952 345h8v8h-8zM856 353h8v8h-8zM896 377h16v8h-16zM1200 401h8v8h-8zM1192 433h8v8h-8z"/>
<path fill="rgb(0,255,0)" d="M696 185h40v8h-40zM688 193h48v8h-48zM688 201h56v8h-56zM688 209h48v8h-48zM696 217h32v8h-32zM904 313h8v8h-8zM888 321h32v8h-32zM888 329h32v8h-32zM896 337h24v8h-24z"/>
<path fill="rgb(19,236,0)" d="M736 185h8v8h-8zM680 193h8v8h-8zM680 209h8v8h-8zM880 329h8v8h-8zM912 345h8v8h-8z"/>
<path fill="rgb(45,210,0)" d="M744 185h8v8h-8zM712 233h8v8h-8zM920 305h8v8h-8zM928 313h8v8h-8zM880 345h8v8h-8zM912 353h8v8h-8z"/>
<path fill="rgb(70,185,0)" d="M752 185h8v8h-8zM920 297h8v8h-8zM936 313h8v8h-8zM896 361h16v8h-16z"/>
<path fill="rgb(13,242,0)" d="M680 201h8v8h-8zM688 217h8v8h-8zM704 225h16v8h-16zM896 345h8v8h-8z"/>
<path fill="rgb(29,226,0)" d="M744 201h8v8h-8zM728 225h8v8h-8zM912 305h8v8h-8zM880 337h8v8h-8z"/>
<path fill="rgb(57,198,0)" d="M752 201h8v8h-8zM680 225h8v8h-8zM728 233h8v8h-8zM896 297h8v8h-8zM920 353h8v8h-8z"/>
<path fill="rgb(35,220,0)" d="M744 209h8v8h-8zM680 217h8v8h-8zM880 313h8v8h-8zM928 321h8v8h-8z"/>
<path fill="rgb(3,252,0)" d="M728 217h8v8h-8zM896 313h8v8h-8z"/>
<path fill="rgb(92,163,0)" d="M688 241h8v8h-8zM888 289h8v8h-8zM944 337h8v8h-8zM864 345h8v8h-8zM880 361h8v8h-8z"/>
<path fill="rgb(25,230,0)" d="M896 305h16v8h-16zM888 345h8v8h-8z"/>
</g></g>
<clipPath id="hb"><rect x="703" y="513" width="490" height="472"/></clipPath>
<filter id="hbf" x="659" y="469" width="578" height="560" filterUnits="userSpaceOnUse"><feGaussianBlur stdDeviation="4"/></filter>
<g clip-path="url(#hb)"><g filter="url(#hbf)">
<path fill="rgb(128,128,0)" d="M679 489h80v8h-80zM679 497h80v8h-80zM679 505h80v8h-80zM679 513h80v8h-80zM679 521h64v8h-64zM711 529h24v8h-24zM711 537h24v8h-24zM719 545h8v8h-8zM719 553h8v8h-8zM719 561h16v8h-16zM727 569h8v8h-8zM727 577h8v8h-8zM735 585h8v8h-8zM743 593h8v8h-8zM751 609h8v8h-8zM759 657h8v8h-8zM767 673h8v8h-8zM775 689h8v8h-8zM783 697h8v8h-8zM791 713h8v8h-8zM807 721h8v8h-8zM823 729h8v8h-8zM759 737h8v8h-8zM839 737h16v8h-16zM863 745h24v8h-24zM1055 745h16v8h-16zM903 753h8v8h-8zM1055 753h16v8h-16zM911 761h8v8h-8zM1055 761h16v8h-16zM1047 769h24v8h-24zM1047 777h24v8h-24zM919 785h8v8h-8zM1039 785h32v8h-32zM1031 793h40v8h-40zM927 801h8v8h-8zM1023 801h8v8h-8zM1063 801h16v8h-16zM935 809h8v8h-8zM1007 809h8v8h-8zM1079 809h16v8h-16zM959 817h24v8h-24zM1095 817h8v8h-8zM1111 825h8v8h-8zM1127 833h8v8h-8zM1143 841h16v8h-16zM1175 849h48v8h-48zM1031 921h8v8h-8z"/>
<path fill="rgb(131,124,0)" d="M759 489h24v8h-24zM759 497h24v8h-24zM759 505h24v8h-24zM759 513h24v8h-24zM743 521h24v8h-24zM735 529h24v8h-24zM735 537h16v8h-16zM727 545h16v8h-16zM727 553h16v8h-16zM735 561h8v8h-8zM735 569h8v8h-8zM735 577h16v8h-16zM743 585h8v8h-8zM751 593h8v8h-8zM751 601h8v8h-8zM759 617h8v8h-8zM759 625h8v8h-8zM759 633h8v8h-8zM759 641h8v8h-8zM759 649h8v8h-8zM767 665h8v8h-8zM775 681h8v8h-8zM783 689h8v8h-8zM791 705h8v8h-8zM743 713h16v8h-16zM799 713h8v8h-8zM815 721h8v8h-8zM831 729h16v8h-16zM1055 729h8v8h-8zM735 737h8v8h-8zM855 737h8v8h-8zM1047 737h24v8h-24zM887 745h16v8h-16zM1047 745h8v8h-8zM1071 745h8v8h-8zM911 753h8v8h-8zM1047 753h8v8h-8zM1071 753h8v8h-8zM1047 761h8v8h-8zM1071 761h8v8h-8zM1039 769h8v8h-8zM1071 769h8v8h-8zM919 777h8v8h-8zM1039 777h8v8h-8zM1071 777h8v8h-8zM1031 785h8v8h-8zM1071 785h8v8h-8zM927 793h8v8h-8zM1023 793h8v8h-8zM1071 793h8v8h-8zM1015 801h8v8h-8zM1079 801h8v8h-8zM943 809h8v8h-8zM991 809h16v8h-16zM1095 809h8v8h-8zM1103 817h8v8h-8zM1119 825h8v8h-8zM1135 833h8v8h-8zM1159 841h16v8h-16z"/>
<path fill="rgb(134,121,0)" d="M783 489h16v8h-16zM783 497h16v8h-16zM783 505h16v8h-16zM783 513h16v8h-16zM767 521h32v8h-32zM759 529h32v8h-32zM751 537h24v8h-24zM743 545h24v8h-24zM743 553h16v8h-16zM743 561h16v8h-16zM743 569h16v8h-16zM751 577h8v8h-8zM751 585h8v8h-8zM759 593h8v8h-8zM759 601h8v8h-8zM759 609h8v8h-8zM775 673h8v8h-8zM783 681h8v8h-8zM791 697h8v8h-8zM799 705h8v8h-8zM807 713h8v8h-8zM735 721h8v8h-8zM759 721h8v8h-8zM823 721h8v8h-8zM1055 721h8v8h-8zM759 729h8v8h-8zM847 729h8v8h-8zM1047 729h8v8h-8zM1063 729h16v8h-16zM863 737h16v8h-16zM1039 737h8v8h-8zM1071 737h8v8h-8zM903 745h8v8h-8zM1039 745h8v8h-8zM1039 753h8v8h-8zM919 761h8v8h-8zM1039 761h8v8h-8zM919 769h8v8h-8zM1031 777h8v8h-8zM1079 777h8v8h-8zM1023 785h8v8h-8zM1079 785h8v8h-8zM1015 793h8v8h-8zM1079 793h8v8h-8zM935 801h8v8h-8zM1007 801h8v8h-8zM1087 801h8v8h-8zM951 809h16v8h-16zM975 809h16v8h-16zM1103 809h8v8h-8zM1111 817h8v8h-8zM1127 825h8v8h-8zM1143 833h8v8h-8zM1175 841h48v8h-48zM847 945h8v8h-8zM823 961h8v8h-8zM847 961h8v8h-8z"/>
<path fill="rgb(137,118,0)" d="M799 489h16v8h-16zM799 497h16v8h-16zM799 505h16v8h-16zM799 513h16v8h-16zM799 521h16v8h-16zM791 529h24v8h-24zM775 537h40v8h-40zM767 545h48v8h-48zM759 553h56v8h-56zM759 561h24v8h-24zM759 569h16v8h-16zM759 577h16v8h-16zM759 585h8v8h-8zM767 601h8v8h-8zM767 609h8v8h-8zM767 657h8v8h-8zM775 665h8v8h-8zM791 689h8v8h-8zM799 697h8v8h-8zM807 705h8v8h-8zM815 713h8v8h-8zM831 721h8v8h-8zM1039 721h16v8h-16zM1063 721h16v8h-16zM735 729h8v8h-8zM855 729h8v8h-8zM1039 729h8v8h-8zM751 737h8v8h-8zM879 737h24v8h-24zM1079 737h8v8h-8zM911 745h8v8h-8zM1079 745h8v8h-8zM919 753h8v8h-8zM1079 753h8v8h-8zM1031 761h8v8h-8zM1079 761h8v8h-8zM1031 769h8v8h-8zM1079 769h8v8h-8zM927 785h8v8h-8zM1087 793h8v8h-8zM999 801h8v8h-8zM1095 801h8v8h-8zM967 809h8v8h-8zM1119 817h8v8h-8zM1135 825h8v8h-8zM1151 833h16v8h-16zM823 945h8v8h-8z"/>
<path fill="rgb(140,115,0)" d="M815 489h16v8h-16zM815 497h16v8h-16zM815 505h16v8h-16zM815 513h16v8h-16zM815 521h16v8h-16zM815 529h16v8h-16zM815 537h16v8h-16zM815 545h16v8h-16zM815 553h16v8h-16zM783 561h48v8h-48zM775 569h48v8h-48zM775 577h40v8h-40zM767 585h16v8h-16zM767 593h16v8h-16zM767 617h8v8h-8zM767 625h8v8h-8zM767 649h8v8h-8zM783 673h8v8h-8zM791 681h8v8h-8zM823 713h8v8h-8zM1031 713h48v8h-48zM839 721h16v8h-16zM1031 721h8v8h-8zM1079 721h8v8h-8zM863 729h16v8h-16zM1031 729h8v8h-8zM1079 729h8v8h-8zM743 737h8v8h-8zM903 737h8v8h-8zM1031 737h8v8h-8zM919 745h8v8h-8zM1031 745h8v8h-8zM1031 753h8v8h-8zM927 777h8v8h-8zM1023 777h8v8h-8zM1087 777h8v8h-8zM1015 785h8v8h-8zM1087 785h8v8h-8zM935 793h8v8h-8zM1007 793h8v8h-8zM1095 793h8v8h-8zM943 801h8v8h-8zM991 801h8v8h-8zM1103 801h8v8h-8zM1111 809h8v8h-8zM1143 825h8v8h-8zM1167 833h56v8h-56z"/>
<path fill="rgb(143,112,0)" d="M831 489h16v8h-16zM831 497h16v8h-16zM831 505h16v8h-16zM831 513h8v8h-8zM831 521h8v8h-8zM831 529h8v8h-8zM831 537h8v8h-8zM831 545h8v8h-8zM831 553h8v8h-8zM831 561h8v8h-8zM823 569h8v8h-8zM815 577h16v8h-16zM783 585h40v8h-40zM783 593h16v8h-16zM775 601h8v8h-8zM775 609h8v8h-8zM767 633h8v8h-8zM783 665h8v8h-8zM791 673h8v8h-8zM799 689h8v8h-8zM807 697h8v8h-8zM815 705h8v8h-8zM1007 705h64v8h-64zM831 713h8v8h-8zM1007 713h24v8h-24zM1079 713h8v8h-8zM855 721h8v8h-8zM1015 721h16v8h-16zM879 729h16v8h-16zM1023 729h8v8h-8zM1087 729h8v8h-8zM911 737h8v8h-8zM1023 737h8v8h-8zM1087 737h8v8h-8zM1023 745h8v8h-8zM1087 745h8v8h-8zM1087 753h8v8h-8zM927 761h8v8h-8zM1023 761h8v8h-8zM1087 761h8v8h-8zM927 769h8v8h-8zM1023 769h8v8h-8zM1087 769h8v8h-8zM951 801h8v8h-8zM1127 817h8v8h-8zM1151 825h8v8h-8zM1207 825h16v8h-16zM847 953h8v8h-8z"/>
<path fill="rgb(147,108,0)" d="M847 489h8v8h-8zM847 497h8v8h-8zM847 505h8v8h-8zM839 513h16v8h-16zM839 521h8v8h-8zM839 529h8v8h-8zM839 537h8v8h-8zM839 545h8v8h-8zM839 553h8v8h-8zM839 561h8v8h-8zM831 569h8v8h-8zM831 577h8v8h-8zM823 585h8v8h-8zM799 593h24v8h-24zM783 601h16v8h-16zM783 609h8v8h-8zM775 617h8v8h-8zM767 641h8v8h-8zM775 657h8v8h-8zM799 681h8v8h-8zM983 681h32v8h-32zM807 689h8v8h-8zM983 689h40v8h-40zM815 697h8v8h-8zM983 697h80v8h-80zM823 705h8v8h-8zM983 705h24v8h-24zM1071 705h16v8h-16zM839 713h16v8h-16zM991 713h16v8h-16zM1087 713h8v8h-8zM743 721h16v8h-16zM863 721h8v8h-8zM999 721h16v8h-16zM1087 721h8v8h-8zM751 729h8v8h-8zM895 729h16v8h-16zM1015 729h8v8h-8zM919 737h8v8h-8zM1015 737h8v8h-8zM927 745h8v8h-8zM927 753h8v8h-8zM1023 753h8v8h-8zM1015 777h8v8h-8zM935 785h8v8h-8zM1095 785h8v8h-8zM999 793h8v8h-8zM1103 793h8v8h-8zM959 801h8v8h-8zM975 801h16v8h-16zM1111 801h8v8h-8zM1119 809h8v8h-8zM1135 817h8v8h-8zM1159 825h48v8h-48zM823 953h8v8h-8z"/>
<path fill="rgb(150,105,0)" d="M855 489h8v8h-8zM855 497h8v8h-8zM855 505h8v8h-8zM855 513h8v8h-8zM847 521h8v8h-8zM847 529h8v8h-8zM847 537h8v8h-8zM847 545h8v8h-8zM847 553h8v8h-8zM839 569h8v8h-8zM839 577h8v8h-8zM831 585h8v8h-8zM823 593h8v8h-8zM799 601h24v8h-24zM791 609h8v8h-8zM783 617h8v8h-8zM775 625h8v8h-8zM791 665h8v8h-8zM799 673h8v8h-8zM983 673h32v8h-32zM975 681h8v8h-8zM1015 681h16v8h-16zM967 689h16v8h-16zM1023 689h24v8h-24zM823 697h8v8h-8zM975 697h8v8h-8zM1063 697h16v8h-16zM831 705h16v8h-16zM975 705h8v8h-8zM1087 705h8v8h-8zM855 713h8v8h-8zM975 713h16v8h-16zM1095 713h8v8h-8zM871 721h16v8h-16zM991 721h8v8h-8zM1095 721h8v8h-8zM743 729h8v8h-8zM911 729h16v8h-16zM999 729h16v8h-16zM1095 729h8v8h-8zM927 737h8v8h-8zM1095 737h8v8h-8zM1015 745h8v8h-8zM1095 745h8v8h-8zM1095 753h8v8h-8zM1095 761h8v8h-8zM1015 769h8v8h-8zM1095 769h8v8h-8zM1095 777h8v8h-8zM1007 785h8v8h-8zM943 793h8v8h-8zM967 801h8v8h-8zM1143 817h8v8h-8zM1199 817h24v8h-24zM831 961h16v8h-16z"/>
<path fill="rgb(153,102,0)" d="M863 489h8v8h-8zM863 497h8v8h-8zM863 505h8v8h-8zM863 513h8v8h-8zM855 521h8v8h-8zM855 529h8v8h-8zM855 537h8v8h-8zM855 545h8v8h-8zM847 561h8v8h-8zM847 569h8v8h-8zM847 577h8v8h-8zM839 585h8v8h-8zM831 593h8v8h-8zM823 601h8v8h-8zM799 609h16v8h-16zM791 617h8v8h-8zM783 657h8v8h-8zM1015 657h8v8h-8zM799 665h8v8h-8zM991 665h40v8h-40zM975 673h8v8h-8zM1015 673h16v8h-16zM807 681h8v8h-8zM967 681h8v8h-8zM1031 681h16v8h-16zM815 689h8v8h-8zM959 689h8v8h-8zM1047 689h24v8h-24zM1191 689h32v8h-32zM831 697h8v8h-8zM959 697h16v8h-16zM1079 697h16v8h-16zM1191 697h32v8h-32zM847 705h8v8h-8zM967 705h8v8h-8zM1095 705h8v8h-8zM1191 705h32v8h-32zM863 713h16v8h-16zM967 713h8v8h-8zM1103 713h8v8h-8zM1199 713h24v8h-24zM887 721h24v8h-24zM975 721h16v8h-16zM1103 721h8v8h-8zM1207 721h16v8h-16zM927 729h16v8h-16zM991 729h8v8h-8zM1103 729h8v8h-8zM1215 729h8v8h-8zM935 737h8v8h-8zM1007 737h8v8h-8zM935 745h8v8h-8zM1015 753h8v8h-8zM1015 761h8v8h-8zM935 777h8v8h-8zM1103 785h8v8h-8zM1127 809h8v8h-8zM1215 809h8v8h-8zM1151 817h8v8h-8zM1183 817h16v8h-16zM831 945h16v8h-16z"/>
<path fill="rgb(159,96,0)" d="M871 489h8v8h-8zM871 497h8v8h-8zM871 505h8v8h-8zM871 513h8v8h-8zM871 521h8v8h-8zM871 529h8v8h-8zM863 537h8v8h-8zM863 545h8v8h-8zM863 553h8v8h-8zM863 561h8v8h-8zM855 577h8v8h-8zM855 585h8v8h-8zM847 593h8v8h-8zM839 601h8v8h-8zM831 609h8v8h-8zM815 617h8v8h-8zM791 625h24v8h-24zM1023 633h16v8h-16zM775 641h8v8h-8zM1015 641h8v8h-8zM1031 641h8v8h-8zM1007 649h8v8h-8zM799 657h8v8h-8zM1039 657h8v8h-8zM807 665h8v8h-8zM975 665h8v8h-8zM1039 665h8v8h-8zM1191 665h32v8h-32zM815 673h8v8h-8zM959 673h8v8h-8zM1047 673h8v8h-8zM1175 673h16v8h-16zM823 681h8v8h-8zM951 681h8v8h-8zM1063 681h8v8h-8zM1167 681h16v8h-16zM831 689h16v8h-16zM943 689h8v8h-8zM1087 689h32v8h-32zM1151 689h24v8h-24zM855 697h16v8h-16zM943 697h8v8h-8zM1111 697h16v8h-16zM1159 697h16v8h-16zM871 705h16v8h-16zM943 705h8v8h-8zM1119 705h8v8h-8zM1159 705h16v8h-16zM895 713h56v8h-56zM1119 713h8v8h-8zM1175 713h8v8h-8zM1119 721h8v8h-8zM1183 721h8v8h-8zM951 729h32v8h-32zM1111 729h8v8h-8zM1199 729h8v8h-8zM943 737h8v8h-8zM1103 745h8v8h-8zM1207 745h8v8h-8zM1103 753h8v8h-8zM1215 753h8v8h-8zM935 761h8v8h-8zM1215 761h8v8h-8zM1103 769h8v8h-8zM1103 777h8v8h-8zM943 785h8v8h-8zM999 785h8v8h-8zM1207 801h16v8h-16zM1135 809h8v8h-8zM1191 809h8v8h-8z"/>
<path fill="rgb(163,92,0)" d="M879 489h8v8h-8zM879 497h8v8h-8zM879 505h8v8h-8zM879 513h8v8h-8zM879 521h8v8h-8zM871 537h8v8h-8zM871 545h8v8h-8zM871 553h8v8h-8zM871 561h8v8h-8zM863 569h8v8h-8zM863 577h8v8h-8zM855 593h8v8h-8zM847 601h8v8h-8zM839 609h8v8h-8zM823 617h16v8h-16zM815 625h8v8h-8zM1023 625h16v8h-16zM799 633h16v8h-16zM1015 633h8v8h-8zM1039 633h8v8h-8zM807 641h8v8h-8zM1007 641h8v8h-8zM1039 641h8v8h-8zM783 649h32v8h-32zM999 649h8v8h-8zM1039 649h8v8h-8zM807 657h8v8h-8zM991 657h8v8h-8zM815 665h8v8h-8zM1047 665h8v8h-8zM1175 665h16v8h-16zM823 673h8v8h-8zM951 673h8v8h-8zM1055 673h8v8h-8zM1151 673h24v8h-24zM831 681h16v8h-16zM943 681h8v8h-8zM1071 681h96v8h-96zM847 689h24v8h-24zM935 689h8v8h-8zM1119 689h32v8h-32zM871 697h16v8h-16zM927 697h16v8h-16zM1127 697h8v8h-8zM1151 697h8v8h-8zM887 705h56v8h-56zM1127 705h8v8h-8zM1127 713h8v8h-8zM1159 713h16v8h-16zM1127 721h8v8h-8zM1175 721h8v8h-8zM1191 729h8v8h-8zM951 737h8v8h-8zM991 737h8v8h-8zM1111 737h8v8h-8zM1199 737h8v8h-8zM943 745h8v8h-8zM1007 753h8v8h-8zM1207 753h8v8h-8zM1103 761h8v8h-8zM1007 769h8v8h-8zM1215 769h8v8h-8zM1215 777h8v8h-8zM1111 785h8v8h-8zM1215 785h8v8h-8zM959 793h8v8h-8zM983 793h8v8h-8zM1215 793h8v8h-8zM1199 801h8v8h-8zM1143 809h8v8h-8zM1183 809h8v8h-8zM839 953h8v8h-8z"/>
<path fill="rgb(166,89,0)" d="M887 489h8v8h-8zM887 497h8v8h-8zM887 505h8v8h-8zM887 513h8v8h-8zM887 521h8v8h-8zM879 529h8v8h-8zM879 537h8v8h-8zM879 545h8v8h-8zM879 553h8v8h-8zM871 569h8v8h-8zM871 577h8v8h-8zM863 585h8v8h-8zM855 601h8v8h-8zM847 609h8v8h-8zM839 617h8v8h-8zM1023 617h8v8h-8zM823 625h16v8h-16zM1015 625h8v8h-8zM1039 625h8v8h-8zM783 633h16v8h-16zM815 633h16v8h-16zM1007 633h8v8h-8zM799 641h8v8h-8zM815 641h8v8h-8zM815 649h8v8h-8zM815 657h8v8h-8zM983 657h8v8h-8zM1047 657h8v8h-8zM1183 657h40v8h-40zM823 665h8v8h-8zM967 665h8v8h-8zM1151 665h24v8h-24zM831 673h24v8h-24zM935 673h16v8h-16zM1063 673h8v8h-8zM1111 673h40v8h-40zM847 681h40v8h-40zM927 681h16v8h-16zM871 689h24v8h-24zM919 689h16v8h-16zM887 697h40v8h-40zM1151 705h8v8h-8zM1151 713h8v8h-8zM1135 721h8v8h-8zM1167 721h8v8h-8zM1119 729h8v8h-8zM1183 729h8v8h-8zM959 737h8v8h-8zM983 737h8v8h-8zM1191 737h8v8h-8zM999 745h8v8h-8zM1199 745h8v8h-8zM1007 761h8v8h-8zM1207 761h8v8h-8zM1207 785h8v8h-8zM967 793h16v8h-16zM1119 793h8v8h-8zM1207 793h8v8h-8zM1127 801h8v8h-8zM1175 809h8v8h-8zM831 953h8v8h-8z"/>
<path fill="rgb(169,86,0)" d="M895 489h8v8h-8zM895 497h8v8h-8zM895 505h8v8h-8zM895 513h8v8h-8zM895 521h8v8h-8zM887 529h8v8h-8zM887 537h8v8h-8zM887 545h8v8h-8zM887 553h8v8h-8zM879 561h16v8h-16zM879 569h8v8h-8zM879 577h8v8h-8zM871 585h8v8h-8zM863 593h8v8h-8zM863 601h8v8h-8zM855 609h8v8h-8zM847 617h8v8h-8zM1015 617h8v8h-8zM1031 617h8v8h-8zM839 625h8v8h-8zM1007 625h8v8h-8zM831 633h8v8h-8zM783 641h16v8h-16zM823 641h8v8h-8zM999 641h8v8h-8zM823 649h8v8h-8zM991 649h8v8h-8zM1047 649h8v8h-8zM1183 649h40v8h-40zM823 657h16v8h-16zM1159 657h24v8h-24zM831 665h40v8h-40zM951 665h16v8h-16zM1055 665h8v8h-8zM1119 665h32v8h-32zM855 673h80v8h-80zM1071 673h40v8h-40zM887 681h40v8h-40zM895 689h24v8h-24zM1135 713h16v8h-16zM1143 721h24v8h-24zM1127 729h8v8h-8zM1175 729h8v8h-8zM967 737h16v8h-16zM1111 745h8v8h-8zM943 753h8v8h-8zM1207 769h8v8h-8zM943 777h8v8h-8zM999 777h8v8h-8zM1111 777h8v8h-8zM1207 777h8v8h-8zM991 785h8v8h-8zM1199 793h8v8h-8zM1191 801h8v8h-8zM1151 809h24v8h-24z"/>
<path fill="rgb(172,83,0)" d="M903 489h64v8h-64zM903 497h64v8h-64zM903 505h64v8h-64zM903 513h64v8h-64zM903 521h48v8h-48zM895 529h48v8h-48zM895 537h16v8h-16zM895 545h16v8h-16zM895 553h8v8h-8zM895 561h8v8h-8zM887 569h16v8h-16zM887 577h8v8h-8zM879 585h8v8h-8zM871 593h16v8h-16zM871 601h8v8h-8zM863 609h8v8h-8zM1023 609h8v8h-8zM855 617h8v8h-8zM1039 617h8v8h-8zM847 625h8v8h-8zM1047 625h8v8h-8zM839 633h8v8h-8zM1047 633h8v8h-8zM831 641h16v8h-16zM1047 641h8v8h-8zM831 649h16v8h-16zM1167 649h16v8h-16zM839 657h32v8h-32zM975 657h8v8h-8zM1119 657h40v8h-40zM871 665h80v8h-80zM1103 665h16v8h-16zM1135 697h16v8h-16zM1119 737h8v8h-8zM951 745h8v8h-8zM991 745h8v8h-8zM999 753h8v8h-8zM1111 753h8v8h-8zM1199 753h8v8h-8zM943 761h8v8h-8zM943 769h8v8h-8zM951 785h8v8h-8zM1135 801h8v8h-8z"/>
<path fill="rgb(175,80,0)" d="M967 489h16v8h-16zM967 497h16v8h-16zM967 505h16v8h-16zM967 513h8v8h-8zM951 521h16v8h-16zM943 529h16v8h-16zM911 537h40v8h-40zM911 545h32v8h-32zM903 553h32v8h-32zM903 561h16v8h-16zM903 569h8v8h-8zM895 577h16v8h-16zM887 585h16v8h-16zM887 593h8v8h-8zM879 601h8v8h-8zM871 609h8v8h-8zM1015 609h8v8h-8zM1031 609h16v8h-16zM863 617h8v8h-8zM1007 617h8v8h-8zM1047 617h8v8h-8zM855 625h8v8h-8zM847 633h8v8h-8zM999 633h8v8h-8zM847 641h16v8h-16zM1175 641h48v8h-48zM847 649h24v8h-24zM1127 649h40v8h-40zM871 657h56v8h-56zM1055 657h8v8h-8zM1111 657h8v8h-8zM1063 665h8v8h-8zM1095 665h8v8h-8zM1135 729h8v8h-8zM1167 729h8v8h-8zM1183 737h8v8h-8zM1191 745h8v8h-8zM1111 761h8v8h-8zM1199 761h8v8h-8zM1111 769h8v8h-8zM1199 785h8v8h-8zM1191 793h8v8h-8zM1183 801h8v8h-8z"/>
<path fill="rgb(178,76,0)" d="M983 489h8v8h-8zM1079 489h48v8h-48zM983 497h8v8h-8zM1087 497h40v8h-40zM983 505h8v8h-8zM1087 505h40v8h-40zM975 513h8v8h-8zM967 521h8v8h-8zM959 529h8v8h-8zM951 537h8v8h-8zM943 545h16v8h-16zM935 553h16v8h-16zM919 561h24v8h-24zM911 569h24v8h-24zM911 577h16v8h-16zM903 585h16v8h-16zM895 593h16v8h-16zM887 601h16v8h-16zM1015 601h16v8h-16zM879 609h8v8h-8zM1007 609h8v8h-8zM871 617h8v8h-8zM863 625h8v8h-8zM999 625h8v8h-8zM855 633h16v8h-16zM1191 633h32v8h-32zM863 641h16v8h-16zM991 641h8v8h-8zM1151 641h24v8h-24zM871 649h48v8h-48zM983 649h8v8h-8zM1055 649h8v8h-8zM1119 649h8v8h-8zM927 657h16v8h-16zM967 657h8v8h-8zM1103 657h8v8h-8zM1071 665h24v8h-24zM1143 729h24v8h-24zM1127 737h8v8h-8zM959 745h8v8h-8zM983 745h8v8h-8zM1119 745h8v8h-8zM999 761h8v8h-8zM999 769h8v8h-8zM1199 769h8v8h-8zM1199 777h8v8h-8zM983 785h8v8h-8zM1119 785h8v8h-8zM1127 793h8v8h-8zM1175 801h8v8h-8z"/>
<path fill="rgb(182,73,0)" d="M991 489h8v8h-8zM1063 489h16v8h-16zM1127 489h16v8h-16zM991 497h8v8h-8zM1063 497h24v8h-24zM1127 497h16v8h-16zM991 505h8v8h-8zM1071 505h16v8h-16zM1127 505h16v8h-16zM983 513h8v8h-8zM1071 513h64v8h-64zM975 521h8v8h-8zM967 529h8v8h-8zM959 537h8v8h-8zM959 545h8v8h-8zM951 553h8v8h-8zM943 561h16v8h-16zM935 569h16v8h-16zM927 577h16v8h-16zM919 585h16v8h-16zM911 593h16v8h-16zM903 601h16v8h-16zM1007 601h8v8h-8zM1031 601h8v8h-8zM1207 601h16v8h-16zM887 609h16v8h-16zM999 609h8v8h-8zM1047 609h8v8h-8zM1191 609h32v8h-32zM879 617h16v8h-16zM999 617h8v8h-8zM1055 617h8v8h-8zM1191 617h32v8h-32zM871 625h16v8h-16zM1055 625h8v8h-8zM1191 625h32v8h-32zM871 633h24v8h-24zM1055 633h8v8h-8zM1159 633h8v8h-8zM1183 633h8v8h-8zM879 641h32v8h-32zM1055 641h8v8h-8zM1119 641h32v8h-32zM919 649h8v8h-8zM1111 649h8v8h-8zM943 657h24v8h-24zM1063 657h8v8h-8zM1135 705h16v8h-16zM1175 737h8v8h-8zM967 745h16v8h-16zM951 753h8v8h-8zM1191 753h8v8h-8zM951 777h8v8h-8zM959 785h8v8h-8zM1143 801h8v8h-8z"/>
<path fill="rgb(185,70,0)" d="M999 489h8v8h-8zM1055 489h8v8h-8zM1143 489h16v8h-16zM999 497h8v8h-8zM1055 497h8v8h-8zM1143 497h16v8h-16zM999 505h8v8h-8zM1055 505h16v8h-16zM1143 505h16v8h-16zM991 513h8v8h-8zM1063 513h8v8h-8zM1135 513h16v8h-16zM983 521h8v8h-8zM1103 521h16v8h-16zM975 529h8v8h-8zM967 537h8v8h-8zM967 545h8v8h-8zM959 553h8v8h-8zM959 561h8v8h-8zM951 569h16v8h-16zM943 577h16v8h-16zM1199 577h24v8h-24zM935 585h16v8h-16zM1191 585h32v8h-32zM927 593h8v8h-8zM999 593h32v8h-32zM1183 593h40v8h-40zM919 601h8v8h-8zM999 601h8v8h-8zM1039 601h8v8h-8zM1183 601h24v8h-24zM903 609h16v8h-16zM1183 609h8v8h-8zM895 617h16v8h-16zM887 625h24v8h-24zM895 633h24v8h-24zM1119 633h40v8h-40zM1167 633h16v8h-16zM911 641h16v8h-16zM1111 641h8v8h-8zM927 649h8v8h-8zM1103 649h8v8h-8zM1095 657h8v8h-8zM1135 737h8v8h-8zM1183 745h8v8h-8zM991 753h8v8h-8zM1119 753h8v8h-8zM991 777h8v8h-8zM1119 777h8v8h-8zM967 785h16v8h-16zM1191 785h8v8h-8zM1183 793h8v8h-8zM1151 801h24v8h-24z"/>
<path fill="rgb(188,67,0)" d="M1007 489h8v8h-8zM1039 489h16v8h-16zM1159 489h8v8h-8zM1007 497h8v8h-8zM1039 497h16v8h-16zM1159 497h8v8h-8zM1007 505h8v8h-8zM1039 505h16v8h-16zM1159 505h8v8h-8zM999 513h16v8h-16zM1047 513h16v8h-16zM1151 513h16v8h-16zM991 521h8v8h-8zM1071 521h32v8h-32zM1119 521h32v8h-32zM983 529h8v8h-8zM975 537h8v8h-8zM975 545h8v8h-8zM967 553h16v8h-16zM967 561h8v8h-8zM1199 561h24v8h-24zM967 569h8v8h-8zM1183 569h40v8h-40zM959 577h16v8h-16zM1183 577h16v8h-16zM951 585h8v8h-8zM991 585h32v8h-32zM1175 585h16v8h-16zM935 593h8v8h-8zM991 593h8v8h-8zM1031 593h8v8h-8zM1175 593h8v8h-8zM927 601h8v8h-8zM991 601h8v8h-8zM1047 601h8v8h-8zM1167 601h16v8h-16zM919 609h8v8h-8zM1055 609h8v8h-8zM1175 609h8v8h-8zM911 617h16v8h-16zM1159 617h8v8h-8zM911 625h8v8h-8zM1127 625h40v8h-40zM919 633h8v8h-8zM991 633h8v8h-8zM1111 633h8v8h-8zM935 649h8v8h-8zM975 649h8v8h-8zM1167 737h8v8h-8zM951 761h8v8h-8zM1191 761h8v8h-8zM1191 777h8v8h-8z"/>
<path fill="rgb(191,64,0)" d="M1015 489h24v8h-24zM1167 489h8v8h-8zM1015 497h24v8h-24zM1167 497h8v8h-8zM1015 505h24v8h-24zM1167 505h8v8h-8zM1015 513h32v8h-32zM1167 513h8v8h-8zM999 521h8v8h-8zM1055 521h16v8h-16zM1151 521h16v8h-16zM991 529h8v8h-8zM1095 529h72v8h-72zM983 537h8v8h-8zM983 545h8v8h-8zM1207 545h16v8h-16zM983 553h8v8h-8zM1175 553h48v8h-48zM975 561h16v8h-16zM1175 561h24v8h-24zM975 569h24v8h-24zM1175 569h8v8h-8zM975 577h48v8h-48zM1175 577h8v8h-8zM959 585h32v8h-32zM1023 585h16v8h-16zM1167 585h8v8h-8zM943 593h16v8h-16zM983 593h8v8h-8zM1039 593h8v8h-8zM1167 593h8v8h-8zM935 601h8v8h-8zM1159 601h8v8h-8zM927 609h8v8h-8zM991 609h8v8h-8zM1151 609h24v8h-24zM991 617h8v8h-8zM1063 617h8v8h-8zM1135 617h24v8h-24zM1183 617h8v8h-8zM919 625h8v8h-8zM991 625h8v8h-8zM1063 625h8v8h-8zM1111 625h16v8h-16zM1183 625h8v8h-8zM1103 633h8v8h-8zM927 641h8v8h-8zM983 641h8v8h-8zM1103 641h8v8h-8zM1063 649h8v8h-8zM1071 657h24v8h-24zM1143 737h8v8h-8zM1159 737h8v8h-8zM1127 745h8v8h-8zM959 753h8v8h-8zM991 761h8v8h-8zM1119 761h8v8h-8zM951 769h8v8h-8zM991 769h8v8h-8zM1119 769h8v8h-8zM1191 769h8v8h-8zM1127 785h8v8h-8zM1135 793h8v8h-8z"/>
<path fill="rgb(194,61,0)" d="M1175 489h8v8h-8zM1175 497h8v8h-8zM1175 505h8v8h-8zM1175 513h8v8h-8zM1007 521h48v8h-48zM1167 521h16v8h-16zM999 529h16v8h-16zM1055 529h40v8h-40zM1167 529h24v8h-24zM991 537h16v8h-16zM1135 537h88v8h-88zM991 545h8v8h-8zM1151 545h56v8h-56zM991 553h16v8h-16zM1159 553h16v8h-16zM991 561h16v8h-16zM1167 561h8v8h-8zM999 569h24v8h-24zM1167 569h8v8h-8zM1023 577h8v8h-8zM1167 577h8v8h-8zM1159 585h8v8h-8zM959 593h24v8h-24zM1047 593h8v8h-8zM1159 593h8v8h-8zM943 601h8v8h-8zM983 601h8v8h-8zM1055 601h8v8h-8zM1151 601h8v8h-8zM1063 609h8v8h-8zM1143 609h8v8h-8zM927 617h8v8h-8zM1119 617h16v8h-16zM927 625h8v8h-8zM1103 625h8v8h-8zM927 633h8v8h-8zM1063 633h8v8h-8zM943 649h8v8h-8zM967 649h8v8h-8zM1095 649h8v8h-8zM1151 737h8v8h-8zM1175 745h8v8h-8zM983 753h8v8h-8zM1183 753h8v8h-8zM959 777h8v8h-8zM1175 793h8v8h-8z"/>
<path fill="rgb(198,57,0)" d="M1183 489h40v8h-40zM1183 497h40v8h-40zM1183 505h40v8h-40zM1183 513h40v8h-40zM1183 521h40v8h-40zM1015 529h40v8h-40zM1191 529h32v8h-32zM1007 537h16v8h-16zM1103 537h32v8h-32zM999 545h16v8h-16zM1143 545h8v8h-8zM1007 553h16v8h-16zM1151 553h8v8h-8zM1007 561h16v8h-16zM1159 561h8v8h-8zM1023 569h8v8h-8zM1159 569h8v8h-8zM1031 577h8v8h-8zM1159 577h8v8h-8zM1039 585h8v8h-8zM1151 593h8v8h-8zM975 601h8v8h-8zM1143 601h8v8h-8zM935 609h8v8h-8zM983 609h8v8h-8zM1071 609h8v8h-8zM1135 609h8v8h-8zM1071 617h8v8h-8zM1103 617h16v8h-16zM1167 617h8v8h-8zM935 641h8v8h-8zM1063 641h8v8h-8zM1095 641h8v8h-8zM951 649h16v8h-16zM967 753h8v8h-8zM983 777h8v8h-8zM1183 785h8v8h-8z"/>
<path fill="rgb(156,99,0)" d="M863 521h8v8h-8zM863 529h8v8h-8zM855 553h8v8h-8zM855 561h8v8h-8zM855 569h8v8h-8zM847 585h8v8h-8zM839 593h8v8h-8zM831 601h8v8h-8zM815 609h16v8h-16zM799 617h16v8h-16zM783 625h8v8h-8zM775 633h8v8h-8zM1023 641h8v8h-8zM775 649h8v8h-8zM1015 649h24v8h-24zM791 657h8v8h-8zM999 657h16v8h-16zM1023 657h16v8h-16zM983 665h8v8h-8zM1031 665h8v8h-8zM807 673h8v8h-8zM967 673h8v8h-8zM1031 673h16v8h-16zM1191 673h32v8h-32zM815 681h8v8h-8zM959 681h8v8h-8zM1047 681h16v8h-16zM1183 681h40v8h-40zM823 689h8v8h-8zM951 689h8v8h-8zM1071 689h16v8h-16zM1175 689h16v8h-16zM839 697h16v8h-16zM951 697h8v8h-8zM1095 697h16v8h-16zM1175 697h16v8h-16zM855 705h16v8h-16zM951 705h16v8h-16zM1103 705h16v8h-16zM1175 705h16v8h-16zM879 713h16v8h-16zM951 713h16v8h-16zM1111 713h8v8h-8zM1183 713h16v8h-16zM911 721h64v8h-64zM1111 721h8v8h-8zM1191 721h16v8h-16zM943 729h8v8h-8zM983 729h8v8h-8zM1207 729h8v8h-8zM999 737h8v8h-8zM1103 737h8v8h-8zM1207 737h16v8h-16zM1007 745h8v8h-8zM1215 745h8v8h-8zM935 753h8v8h-8zM935 769h8v8h-8zM1007 777h8v8h-8zM951 793h8v8h-8zM991 793h8v8h-8zM1111 793h8v8h-8zM1119 801h8v8h-8zM1199 809h16v8h-16zM1159 817h24v8h-24z"/>
<path fill="rgb(124,131,0)" d="M679 529h32v8h-32zM679 537h32v8h-32zM679 545h40v8h-40zM703 553h16v8h-16zM711 561h8v8h-8zM711 569h16v8h-16zM719 577h8v8h-8zM727 585h8v8h-8zM735 593h8v8h-8zM743 601h8v8h-8zM751 617h8v8h-8zM759 665h8v8h-8zM767 681h8v8h-8zM775 697h8v8h-8zM783 705h8v8h-8zM759 713h8v8h-8zM783 713h8v8h-8zM791 721h16v8h-16zM807 729h16v8h-16zM831 737h8v8h-8zM743 745h16v8h-16zM847 745h16v8h-16zM879 753h24v8h-24zM903 761h8v8h-8zM911 769h8v8h-8zM919 793h8v8h-8zM919 801h8v8h-8zM1031 801h32v8h-32zM927 809h8v8h-8zM1015 809h64v8h-64zM935 817h24v8h-24zM983 817h32v8h-32zM1079 817h16v8h-16zM1103 825h8v8h-8zM1119 833h8v8h-8zM1135 841h8v8h-8zM1159 849h16v8h-16zM1023 921h8v8h-8zM1039 921h8v8h-8zM1031 929h8v8h-8zM831 937h8v8h-8z"/>
<path fill="rgb(201,54,0)" d="M1023 537h80v8h-80zM1015 545h32v8h-32zM1127 545h16v8h-16zM1023 553h16v8h-16zM1143 553h8v8h-8zM1023 561h16v8h-16zM1151 561h8v8h-8zM1031 569h8v8h-8zM1151 569h8v8h-8zM1039 577h8v8h-8zM1151 577h8v8h-8zM1047 585h8v8h-8zM1151 585h8v8h-8zM1055 593h8v8h-8zM1143 593h8v8h-8zM951 601h24v8h-24zM1063 601h8v8h-8zM1135 601h8v8h-8zM1119 609h16v8h-16zM935 617h8v8h-8zM1079 617h24v8h-24zM1071 625h8v8h-8zM1095 625h8v8h-8zM1167 625h8v8h-8zM983 633h8v8h-8zM1095 633h8v8h-8zM1071 649h8v8h-8zM1087 649h8v8h-8zM1135 745h8v8h-8zM975 753h8v8h-8zM1127 753h8v8h-8zM959 761h8v8h-8zM1143 793h8v8h-8z"/>
<path fill="rgb(204,51,0)" d="M1047 545h24v8h-24zM1111 545h16v8h-16zM1039 553h8v8h-8zM1135 553h8v8h-8zM1039 561h8v8h-8zM1143 561h8v8h-8zM1039 569h8v8h-8zM1143 585h8v8h-8zM1071 601h8v8h-8zM1127 601h8v8h-8zM943 609h8v8h-8zM1079 609h40v8h-40zM983 617h8v8h-8zM935 625h8v8h-8zM983 625h8v8h-8zM1079 625h16v8h-16zM935 633h8v8h-8zM1071 633h8v8h-8zM943 641h8v8h-8zM975 641h8v8h-8zM1079 649h8v8h-8zM1167 745h8v8h-8zM983 761h8v8h-8zM1183 761h8v8h-8zM959 769h8v8h-8zM983 769h8v8h-8zM967 777h16v8h-16zM1127 777h8v8h-8zM1183 777h8v8h-8zM1167 793h8v8h-8z"/>
<path fill="rgb(207,48,0)" d="M1071 545h40v8h-40zM1047 553h16v8h-16zM1127 553h8v8h-8zM1047 561h8v8h-8zM1135 561h8v8h-8zM1047 569h8v8h-8zM1143 569h8v8h-8zM1047 577h8v8h-8zM1143 577h8v8h-8zM1055 585h8v8h-8zM1063 593h8v8h-8zM1135 593h8v8h-8zM1079 601h8v8h-8zM1119 601h8v8h-8zM975 609h8v8h-8zM1175 617h8v8h-8zM1087 633h8v8h-8zM1071 641h8v8h-8zM1087 641h8v8h-8zM1127 761h8v8h-8zM1183 769h8v8h-8zM1135 785h8v8h-8zM1151 793h16v8h-16z"/>
<path fill="rgb(121,134,0)" d="M679 553h24v8h-24zM679 561h32v8h-32zM679 569h32v8h-32zM711 577h8v8h-8zM719 585h8v8h-8zM727 593h8v8h-8zM735 601h8v8h-8zM743 609h8v8h-8zM751 625h8v8h-8zM751 633h8v8h-8zM751 641h8v8h-8zM751 649h8v8h-8zM751 657h8v8h-8zM759 673h8v8h-8zM767 689h8v8h-8zM775 705h8v8h-8zM735 713h8v8h-8zM767 713h16v8h-16zM767 721h8v8h-8zM783 721h8v8h-8zM767 729h8v8h-8zM791 729h16v8h-16zM767 737h8v8h-8zM815 737h16v8h-16zM735 745h8v8h-8zM759 745h8v8h-8zM839 745h8v8h-8zM855 753h24v8h-24zM895 761h8v8h-8zM903 769h8v8h-8zM911 777h8v8h-8zM911 785h8v8h-8zM911 793h8v8h-8zM911 801h8v8h-8zM911 809h16v8h-16zM919 817h16v8h-16zM1015 817h64v8h-64zM975 825h8v8h-8zM1087 825h16v8h-16zM1111 833h8v8h-8zM1127 841h8v8h-8zM1143 849h16v8h-16zM1175 857h48v8h-48zM1023 913h16v8h-16zM1015 921h8v8h-8zM1023 929h8v8h-8zM1039 929h8v8h-8zM839 937h8v8h-8zM815 953h8v8h-8zM855 953h8v8h-8zM839 969h8v8h-8z"/>
<path fill="rgb(210,45,0)" d="M1063 553h8v8h-8zM1119 553h8v8h-8zM1055 561h8v8h-8zM1135 569h8v8h-8zM1055 577h8v8h-8zM1135 577h8v8h-8zM1135 585h8v8h-8zM1071 593h8v8h-8zM1127 593h8v8h-8zM1087 601h8v8h-8zM1103 601h16v8h-16zM951 609h8v8h-8zM967 609h8v8h-8zM943 617h8v8h-8zM1175 625h8v8h-8zM1079 633h8v8h-8zM951 641h8v8h-8zM967 641h8v8h-8zM1079 641h8v8h-8zM1143 745h8v8h-8zM1159 745h8v8h-8zM1175 753h8v8h-8zM967 761h16v8h-16zM1127 769h8v8h-8zM1175 785h8v8h-8z"/>
<path fill="rgb(214,41,0)" d="M1071 553h24v8h-24zM1103 553h16v8h-16zM1063 561h8v8h-8zM1127 561h8v8h-8zM1055 569h8v8h-8zM1063 585h8v8h-8zM1095 601h8v8h-8zM959 609h8v8h-8zM975 617h8v8h-8zM943 625h8v8h-8zM943 633h8v8h-8zM975 633h8v8h-8zM959 641h8v8h-8zM1151 745h8v8h-8zM1135 753h8v8h-8zM967 769h16v8h-16z"/>
<path fill="rgb(217,38,0)" d="M1095 553h8v8h-8zM1071 561h8v8h-8zM1119 561h8v8h-8zM1063 569h8v8h-8zM1127 569h8v8h-8zM1063 577h8v8h-8zM1127 577h8v8h-8zM1071 585h8v8h-8zM1127 585h8v8h-8zM1079 593h8v8h-8zM1119 593h8v8h-8zM951 617h8v8h-8zM975 625h8v8h-8z"/>
<path fill="rgb(220,35,0)" d="M1079 561h8v8h-8zM1111 561h8v8h-8zM1071 569h8v8h-8zM1119 569h8v8h-8zM1071 577h8v8h-8zM1119 585h8v8h-8zM1087 593h32v8h-32zM967 617h8v8h-8zM951 633h8v8h-8zM1175 761h8v8h-8zM1135 777h8v8h-8zM1175 777h8v8h-8zM1143 785h8v8h-8zM1167 785h8v8h-8z"/>
<path fill="rgb(223,32,0)" d="M1087 561h24v8h-24zM1079 569h8v8h-8zM1119 577h8v8h-8zM1079 585h8v8h-8zM1111 585h8v8h-8zM959 617h8v8h-8zM951 625h8v8h-8zM967 633h8v8h-8zM1167 753h8v8h-8zM1175 769h8v8h-8z"/>
<path fill="rgb(226,29,0)" d="M1087 569h8v8h-8zM1103 569h16v8h-16zM1079 577h8v8h-8zM1111 577h8v8h-8zM1087 585h24v8h-24zM959 625h16v8h-16zM959 633h8v8h-8zM1143 753h8v8h-8zM1135 761h8v8h-8zM1135 769h8v8h-8zM1151 785h16v8h-16z"/>
<path fill="rgb(230,26,0)" d="M1095 569h8v8h-8zM1087 577h24v8h-24zM1159 753h8v8h-8z"/>
<path fill="rgb(118,137,0)" d="M679 577h32v8h-32zM679 585h40v8h-40zM719 593h8v8h-8zM743 617h8v8h-8zM751 665h8v8h-8zM751 673h8v8h-8zM759 681h8v8h-8zM759 689h8v8h-8zM767 697h8v8h-8zM751 705h24v8h-24zM775 721h8v8h-8zM727 729h8v8h-8zM775 729h16v8h-16zM727 737h8v8h-8zM775 737h40v8h-40zM767 745h8v8h-8zM823 745h16v8h-16zM743 753h24v8h-24zM839 753h16v8h-16zM847 761h48v8h-48zM895 769h8v8h-8zM903 777h8v8h-8zM903 801h8v8h-8zM903 809h8v8h-8zM895 817h24v8h-24zM903 825h72v8h-72zM983 825h104v8h-104zM1095 833h16v8h-16zM1111 841h16v8h-16zM1127 849h16v8h-16zM1151 857h24v8h-24zM1183 865h40v8h-40zM1039 913h8v8h-8zM1015 929h8v8h-8zM831 969h8v8h-8z"/>
<path fill="rgb(115,140,0)" d="M679 593h40v8h-40zM719 601h16v8h-16zM735 609h8v8h-8zM743 625h8v8h-8zM743 633h8v8h-8zM743 641h8v8h-8zM743 649h8v8h-8zM743 657h8v8h-8zM743 665h8v8h-8zM751 681h8v8h-8zM759 697h8v8h-8zM743 705h8v8h-8zM727 721h8v8h-8zM727 745h8v8h-8zM775 745h48v8h-48zM727 753h16v8h-16zM767 753h72v8h-72zM735 761h56v8h-56zM823 761h24v8h-24zM823 769h72v8h-72zM815 777h88v8h-88zM815 785h64v8h-64zM895 785h16v8h-16zM815 793h64v8h-64zM895 793h16v8h-16zM815 801h88v8h-88zM831 809h72v8h-72zM871 817h24v8h-24zM887 825h16v8h-16zM903 833h192v8h-192zM1095 841h16v8h-16zM1119 849h8v8h-8zM1135 857h16v8h-16zM679 865h32v8h-32zM1167 865h16v8h-16zM679 873h40v8h-40zM1183 873h40v8h-40zM1015 913h8v8h-8zM1047 921h8v8h-8zM823 937h8v8h-8zM815 945h8v8h-8zM815 961h8v8h-8zM855 961h8v8h-8zM847 969h8v8h-8z"/>
<path fill="rgb(112,143,0)" d="M679 601h40v8h-40zM727 609h8v8h-8zM735 617h8v8h-8zM743 673h8v8h-8zM743 681h8v8h-8zM751 689h8v8h-8zM751 697h8v8h-8zM719 753h8v8h-8zM727 761h8v8h-8zM791 761h32v8h-32zM735 769h88v8h-88zM775 777h40v8h-40zM791 785h24v8h-24zM879 785h16v8h-16zM799 793h16v8h-16zM879 793h16v8h-16zM807 801h8v8h-8zM815 809h16v8h-16zM823 817h48v8h-48zM863 825h24v8h-24zM887 833h16v8h-16zM1071 841h24v8h-24zM1103 849h16v8h-16zM679 857h32v8h-32zM1119 857h16v8h-16zM711 865h8v8h-8zM1143 865h24v8h-24zM719 873h8v8h-8zM1167 873h16v8h-16zM679 881h40v8h-40zM1183 881h40v8h-40zM1183 889h40v8h-40zM1183 897h40v8h-40zM1023 905h16v8h-16zM1183 905h40v8h-40zM1007 913h8v8h-8zM1047 913h8v8h-8zM1183 913h40v8h-40zM1007 921h8v8h-8zM1191 921h32v8h-32zM1007 929h8v8h-8zM1047 929h8v8h-8zM847 937h8v8h-8zM1023 937h24v8h-24zM855 945h8v8h-8zM1071 945h8v8h-8zM823 969h8v8h-8z"/>
<path fill="rgb(108,147,0)" d="M679 609h48v8h-48zM727 617h8v8h-8zM735 625h8v8h-8zM735 633h8v8h-8zM735 641h8v8h-8zM735 649h8v8h-8zM735 657h8v8h-8zM735 665h8v8h-8zM735 673h8v8h-8zM743 689h8v8h-8zM743 697h8v8h-8zM735 705h8v8h-8zM719 737h8v8h-8zM719 745h8v8h-8zM711 753h8v8h-8zM719 761h8v8h-8zM727 769h8v8h-8zM743 777h32v8h-32zM775 785h16v8h-16zM783 793h16v8h-16zM791 801h16v8h-16zM799 809h16v8h-16zM815 817h8v8h-8zM831 825h32v8h-32zM871 833h16v8h-16zM895 841h176v8h-176zM679 849h32v8h-32zM1079 849h24v8h-24zM711 857h8v8h-8zM1103 857h16v8h-16zM719 865h8v8h-8zM1119 865h24v8h-24zM1151 873h16v8h-16zM719 881h8v8h-8zM1167 881h16v8h-16zM1175 889h8v8h-8zM1175 897h8v8h-8zM1015 905h8v8h-8zM1039 905h8v8h-8zM1175 905h8v8h-8zM1175 913h8v8h-8zM999 921h8v8h-8zM1183 921h8v8h-8zM1183 929h40v8h-40zM1015 937h8v8h-8zM1047 937h8v8h-8z"/>
<path fill="rgb(105,150,0)" d="M679 617h48v8h-48zM679 625h24v8h-24zM727 625h8v8h-8zM727 657h8v8h-8zM727 665h8v8h-8zM727 673h8v8h-8zM735 681h8v8h-8zM735 689h8v8h-8zM727 713h8v8h-8zM719 729h8v8h-8zM711 745h8v8h-8zM711 761h8v8h-8zM719 769h8v8h-8zM727 777h16v8h-16zM759 785h16v8h-16zM775 793h8v8h-8zM783 801h8v8h-8zM791 809h8v8h-8zM799 817h16v8h-16zM815 825h16v8h-16zM847 833h24v8h-24zM879 841h16v8h-16zM1055 849h24v8h-24zM1079 857h24v8h-24zM727 865h8v8h-8zM1103 865h16v8h-16zM727 873h8v8h-8zM1119 873h32v8h-32zM727 881h8v8h-8zM1151 881h16v8h-16zM679 889h40v8h-40zM1159 889h16v8h-16zM1167 897h8v8h-8zM1007 905h8v8h-8zM1047 905h8v8h-8zM1167 905h8v8h-8zM999 913h8v8h-8zM1167 913h8v8h-8zM1055 921h8v8h-8zM1175 921h8v8h-8zM999 929h8v8h-8zM1055 929h8v8h-8zM1175 929h8v8h-8zM1007 937h8v8h-8zM1183 937h40v8h-40zM855 969h8v8h-8z"/>
<path fill="rgb(102,153,0)" d="M703 625h24v8h-24zM679 633h32v8h-32zM727 633h8v8h-8zM727 641h8v8h-8zM727 649h8v8h-8zM719 657h8v8h-8zM719 665h8v8h-8zM719 673h8v8h-8zM727 681h8v8h-8zM735 697h8v8h-8zM719 721h8v8h-8zM711 737h8v8h-8zM679 745h32v8h-32zM679 753h32v8h-32zM679 761h32v8h-32zM711 769h8v8h-8zM719 777h8v8h-8zM743 785h16v8h-16zM767 793h8v8h-8zM775 801h8v8h-8zM783 809h8v8h-8zM791 817h8v8h-8zM807 825h8v8h-8zM823 833h24v8h-24zM679 841h32v8h-32zM863 841h16v8h-16zM711 849h8v8h-8zM895 849h120v8h-120zM1023 849h32v8h-32zM719 857h8v8h-8zM1063 857h16v8h-16zM1079 865h24v8h-24zM735 873h8v8h-8zM1095 873h24v8h-24zM1119 881h32v8h-32zM719 889h8v8h-8zM1143 889h16v8h-16zM1151 897h16v8h-16zM999 905h8v8h-8zM1159 905h8v8h-8zM991 913h8v8h-8zM1055 913h8v8h-8zM1159 913h8v8h-8zM991 921h8v8h-8zM1159 921h16v8h-16zM991 929h8v8h-8zM1167 929h8v8h-8zM815 937h8v8h-8zM999 937h8v8h-8zM1055 937h8v8h-8zM1167 937h16v8h-16zM1023 945h32v8h-32zM1063 945h8v8h-8zM1175 945h48v8h-48zM807 953h8v8h-8zM863 953h8v8h-8zM1071 953h8v8h-8zM1175 953h48v8h-48zM863 961h8v8h-8zM1175 961h48v8h-48zM1159 969h64v8h-64zM1127 977h96v8h-96zM1127 985h96v8h-96zM1127 993h96v8h-96zM1127 1001h96v8h-96z"/>
<path fill="rgb(99,156,0)" d="M711 633h16v8h-16zM679 641h48v8h-48zM679 649h48v8h-48zM711 657h8v8h-8zM711 665h8v8h-8zM711 673h8v8h-8zM719 681h8v8h-8zM727 689h8v8h-8zM727 697h8v8h-8zM727 705h8v8h-8zM711 729h8v8h-8zM679 737h32v8h-32zM679 769h32v8h-32zM711 777h8v8h-8zM727 785h16v8h-16zM751 793h16v8h-16zM767 801h8v8h-8zM775 809h8v8h-8zM783 817h8v8h-8zM799 825h8v8h-8zM679 833h24v8h-24zM815 833h8v8h-8zM839 841h24v8h-24zM879 849h16v8h-16zM1015 849h8v8h-8zM727 857h8v8h-8zM935 857h56v8h-56zM1047 857h16v8h-16zM735 865h8v8h-8zM1071 865h8v8h-8zM1079 873h16v8h-16zM735 881h8v8h-8zM1095 881h24v8h-24zM727 889h8v8h-8zM1111 889h32v8h-32zM1015 897h32v8h-32zM1127 897h24v8h-24zM991 905h8v8h-8zM1055 905h8v8h-8zM1143 905h16v8h-16zM983 913h8v8h-8zM1063 913h8v8h-8zM1151 913h8v8h-8zM983 921h8v8h-8zM1063 921h8v8h-8zM1151 921h8v8h-8zM983 929h8v8h-8zM1063 929h8v8h-8zM1159 929h8v8h-8zM991 937h8v8h-8zM1063 937h16v8h-16zM1159 937h8v8h-8zM807 945h8v8h-8zM1007 945h16v8h-16zM1055 945h8v8h-8zM1079 945h8v8h-8zM1159 945h16v8h-16zM1063 953h8v8h-8zM1159 953h16v8h-16zM807 961h8v8h-8zM1151 961h24v8h-24zM815 969h8v8h-8zM1135 969h24v8h-24zM1103 977h24v8h-24zM1103 985h24v8h-24zM1103 993h24v8h-24zM1103 1001h24v8h-24z"/>
<path fill="rgb(96,159,0)" d="M679 657h32v8h-32zM679 665h32v8h-32zM703 673h8v8h-8zM711 681h8v8h-8zM719 689h8v8h-8zM719 697h8v8h-8zM719 705h8v8h-8zM719 713h8v8h-8zM711 721h8v8h-8zM679 729h32v8h-32zM679 777h32v8h-32zM711 785h16v8h-16zM743 793h8v8h-8zM759 801h8v8h-8zM791 825h8v8h-8zM703 833h8v8h-8zM799 833h16v8h-16zM823 841h16v8h-16zM719 849h8v8h-8zM863 849h16v8h-16zM735 857h8v8h-8zM903 857h32v8h-32zM991 857h24v8h-24zM1023 857h24v8h-24zM959 865h24v8h-24zM1055 865h16v8h-16zM743 873h8v8h-8zM1063 873h16v8h-16zM1079 881h16v8h-16zM735 889h8v8h-8zM1087 889h24v8h-24zM679 897h48v8h-48zM983 897h32v8h-32zM1047 897h16v8h-16zM1095 897h32v8h-32zM983 905h8v8h-8zM1063 905h8v8h-8zM1119 905h24v8h-24zM975 913h8v8h-8zM1127 913h24v8h-24zM975 921h8v8h-8zM1071 921h8v8h-8zM1135 921h16v8h-16zM831 929h8v8h-8zM975 929h8v8h-8zM1071 929h8v8h-8zM1143 929h16v8h-16zM855 937h8v8h-8zM975 937h16v8h-16zM1079 937h8v8h-8zM1143 937h16v8h-16zM863 945h8v8h-8zM983 945h24v8h-24zM1143 945h16v8h-16zM1031 953h32v8h-32zM1079 953h8v8h-8zM1143 953h16v8h-16zM1135 961h16v8h-16zM863 969h8v8h-8zM1111 969h24v8h-24zM831 977h24v8h-24zM1087 977h16v8h-16zM1087 985h16v8h-16zM1087 993h16v8h-16zM1087 1001h16v8h-16z"/>
<path fill="rgb(92,163,0)" d="M679 673h24v8h-24zM679 681h32v8h-32zM711 689h8v8h-8zM711 697h8v8h-8zM711 713h8v8h-8zM679 721h32v8h-32zM679 785h32v8h-32zM727 793h16v8h-16zM751 801h8v8h-8zM767 809h8v8h-8zM775 817h8v8h-8zM679 825h32v8h-32zM783 825h8v8h-8zM791 833h8v8h-8zM711 841h8v8h-8zM807 841h16v8h-16zM727 849h8v8h-8zM839 849h24v8h-24zM887 857h16v8h-16zM1015 857h8v8h-8zM743 865h8v8h-8zM935 865h24v8h-24zM983 865h24v8h-24zM1039 865h16v8h-16zM959 873h32v8h-32zM1055 873h8v8h-8zM743 881h8v8h-8zM975 881h16v8h-16zM1055 881h24v8h-24zM975 889h112v8h-112zM727 897h8v8h-8zM975 897h8v8h-8zM1063 897h32v8h-32zM975 905h8v8h-8zM1071 905h48v8h-48zM1071 913h56v8h-56zM967 921h8v8h-8zM1079 921h8v8h-8zM1119 921h16v8h-16zM823 929h8v8h-8zM839 929h8v8h-8zM967 929h8v8h-8zM1079 929h8v8h-8zM1127 929h16v8h-16zM807 937h8v8h-8zM967 937h8v8h-8zM1135 937h8v8h-8zM975 945h8v8h-8zM1087 945h8v8h-8zM1127 945h16v8h-16zM799 953h8v8h-8zM871 953h8v8h-8zM983 953h48v8h-48zM1087 953h8v8h-8zM1127 953h16v8h-16zM871 961h8v8h-8zM1039 961h96v8h-96zM871 969h8v8h-8zM1055 969h56v8h-56zM855 977h8v8h-8zM1071 977h16v8h-16zM1071 985h16v8h-16zM1071 993h16v8h-16zM1071 1001h16v8h-16z"/>
<path fill="rgb(89,166,0)" d="M679 689h32v8h-32zM679 697h32v8h-32zM679 705h40v8h-40zM679 713h32v8h-32zM679 793h48v8h-48zM679 801h24v8h-24zM743 801h8v8h-8zM679 809h24v8h-24zM759 809h8v8h-8zM679 817h32v8h-32zM767 817h8v8h-8zM775 825h8v8h-8zM711 833h8v8h-8zM783 833h8v8h-8zM719 841h8v8h-8zM799 841h8v8h-8zM735 849h8v8h-8zM823 849h16v8h-16zM743 857h8v8h-8zM863 857h24v8h-24zM751 865h8v8h-8zM911 865h24v8h-24zM1007 865h32v8h-32zM751 873h8v8h-8zM943 873h16v8h-16zM991 873h16v8h-16zM1039 873h16v8h-16zM751 881h8v8h-8zM959 881h16v8h-16zM991 881h24v8h-24zM1039 881h16v8h-16zM743 889h8v8h-8zM967 889h8v8h-8zM735 897h8v8h-8zM967 897h8v8h-8zM679 905h32v8h-32zM967 905h8v8h-8zM967 913h8v8h-8zM1087 921h32v8h-32zM815 929h8v8h-8zM1087 929h40v8h-40zM1087 937h48v8h-48zM799 945h8v8h-8zM871 945h8v8h-8zM959 945h16v8h-16zM1095 945h32v8h-32zM879 953h8v8h-8zM959 953h24v8h-24zM1095 953h32v8h-32zM799 961h8v8h-8zM879 961h8v8h-8zM1015 961h24v8h-24zM807 969h8v8h-8zM879 969h8v8h-8zM935 969h16v8h-16zM1039 969h16v8h-16zM823 977h8v8h-8zM863 977h8v8h-8zM927 977h24v8h-24zM1055 977h16v8h-16zM847 985h16v8h-16zM927 985h24v8h-24zM1055 985h16v8h-16zM927 993h24v8h-24zM1055 993h16v8h-16zM927 1001h24v8h-24zM1055 1001h16v8h-16z"/>
<path fill="rgb(233,22,0)" d="M1151 753h8v8h-8zM1167 777h8v8h-8z"/>
<path fill="rgb(239,16,0)" d="M1143 761h8v8h-8zM1167 769h8v8h-8z"/>
<path fill="rgb(245,10,0)" d="M1151 761h16v8h-16z"/>
<path fill="rgb(236,19,0)" d="M1167 761h8v8h-8zM1143 777h8v8h-8z"/>
<path fill="rgb(242,13,0)" d="M1143 769h8v8h-8zM1151 777h16v8h-16z"/>
<path fill="rgb(249,6,0)" d="M1151 769h16v8h-16z"/>
<path fill="rgb(86,169,0)" d="M703 801h40v8h-40zM703 809h8v8h-8zM751 809h8v8h-8zM759 817h8v8h-8zM767 825h8v8h-8zM775 833h8v8h-8zM783 841h16v8h-16zM743 849h8v8h-8zM815 849h8v8h-8zM751 857h8v8h-8zM847 857h16v8h-16zM887 865h24v8h-24zM927 873h16v8h-16zM1007 873h32v8h-32zM943 881h16v8h-16zM1015 881h24v8h-24zM751 889h8v8h-8zM959 889h8v8h-8zM743 897h8v8h-8zM959 897h8v8h-8zM711 905h16v8h-16zM959 905h8v8h-8zM959 913h8v8h-8zM959 921h8v8h-8zM847 929h8v8h-8zM959 929h8v8h-8zM799 937h8v8h-8zM863 937h8v8h-8zM959 937h8v8h-8zM879 945h8v8h-8zM951 945h8v8h-8zM791 953h8v8h-8zM887 953h16v8h-16zM943 953h16v8h-16zM791 961h8v8h-8zM887 961h128v8h-128zM799 969h8v8h-8zM887 969h16v8h-16zM911 969h24v8h-24zM951 969h16v8h-16zM1023 969h16v8h-16zM815 977h8v8h-8zM871 977h8v8h-8zM919 977h8v8h-8zM951 977h8v8h-8zM1039 977h16v8h-16zM831 985h16v8h-16zM863 985h16v8h-16zM919 985h8v8h-8zM951 985h8v8h-8zM1039 985h16v8h-16zM839 993h40v8h-40zM919 993h8v8h-8zM951 993h8v8h-8zM1039 993h16v8h-16zM839 1001h40v8h-40zM919 1001h8v8h-8zM951 1001h8v8h-8zM1039 1001h16v8h-16z"/>
<path fill="rgb(83,172,0)" d="M711 809h16v8h-16zM735 809h16v8h-16zM711 817h8v8h-8zM751 817h8v8h-8zM711 825h8v8h-8zM759 825h8v8h-8zM719 833h8v8h-8zM767 833h8v8h-8zM727 841h16v8h-16zM775 841h8v8h-8zM751 849h8v8h-8zM799 849h16v8h-16zM759 857h8v8h-8zM831 857h16v8h-16zM759 865h8v8h-8zM863 865h24v8h-24zM759 873h8v8h-8zM911 873h16v8h-16zM759 881h8v8h-8zM935 881h8v8h-8zM943 889h16v8h-16zM951 897h8v8h-8zM727 905h16v8h-16zM951 905h8v8h-8zM951 921h8v8h-8zM807 929h8v8h-8zM951 929h8v8h-8zM791 937h8v8h-8zM871 937h8v8h-8zM951 937h8v8h-8zM783 945h16v8h-16zM887 945h32v8h-32zM935 945h16v8h-16zM783 953h8v8h-8zM903 953h40v8h-40zM783 961h8v8h-8zM791 969h8v8h-8zM903 969h8v8h-8zM967 969h24v8h-24zM999 969h24v8h-24zM807 977h8v8h-8zM879 977h40v8h-40zM959 977h8v8h-8zM1023 977h16v8h-16zM815 985h16v8h-16zM879 985h40v8h-40zM959 985h8v8h-8zM1023 985h16v8h-16zM823 993h16v8h-16zM879 993h40v8h-40zM959 993h8v8h-8zM1023 993h16v8h-16zM823 1001h16v8h-16zM879 1001h40v8h-40zM959 1001h8v8h-8zM1023 1001h16v8h-16z"/>
<path fill="rgb(80,175,0)" d="M727 809h8v8h-8zM719 817h8v8h-8zM743 817h8v8h-8zM719 825h8v8h-8zM751 825h8v8h-8zM727 833h8v8h-8zM751 833h16v8h-16zM743 841h32v8h-32zM759 849h40v8h-40zM767 857h8v8h-8zM815 857h16v8h-16zM767 865h8v8h-8zM847 865h16v8h-16zM895 873h16v8h-16zM919 881h16v8h-16zM759 889h8v8h-8zM935 889h8v8h-8zM751 897h8v8h-8zM943 897h8v8h-8zM743 905h8v8h-8zM679 913h48v8h-48zM951 913h8v8h-8zM815 921h24v8h-24zM791 929h16v8h-16zM855 929h8v8h-8zM943 929h8v8h-8zM783 937h8v8h-8zM879 937h72v8h-72zM775 945h8v8h-8zM919 945h16v8h-16zM775 953h8v8h-8zM775 961h8v8h-8zM783 969h8v8h-8zM991 969h8v8h-8zM791 977h16v8h-16zM967 977h8v8h-8zM1007 977h16v8h-16zM791 985h24v8h-24zM967 985h8v8h-8zM1007 985h16v8h-16zM791 993h32v8h-32zM967 993h8v8h-8zM1007 993h16v8h-16zM791 1001h32v8h-32zM967 1001h8v8h-8zM1007 1001h16v8h-16z"/>
<path fill="rgb(77,178,0)" d="M727 817h16v8h-16zM727 825h24v8h-24zM735 833h16v8h-16zM775 857h40v8h-40zM775 865h8v8h-8zM823 865h24v8h-24zM767 873h8v8h-8zM863 873h32v8h-32zM767 881h8v8h-8zM903 881h16v8h-16zM767 889h8v8h-8zM919 889h16v8h-16zM759 897h8v8h-8zM927 897h16v8h-16zM751 905h8v8h-8zM935 905h16v8h-16zM727 913h24v8h-24zM943 913h8v8h-8zM791 921h24v8h-24zM839 921h8v8h-8zM935 921h16v8h-16zM775 929h16v8h-16zM863 929h80v8h-80zM767 937h16v8h-16zM767 945h8v8h-8zM767 953h8v8h-8zM767 961h8v8h-8zM775 969h8v8h-8zM783 977h8v8h-8zM975 977h32v8h-32zM783 985h8v8h-8zM975 985h32v8h-32zM783 993h8v8h-8zM975 993h32v8h-32zM783 1001h8v8h-8zM975 1001h32v8h-32z"/>
<path fill="rgb(73,182,0)" d="M783 865h8v8h-8zM799 865h24v8h-24zM775 873h8v8h-8zM831 873h32v8h-32zM775 881h8v8h-8zM887 881h16v8h-16zM903 889h16v8h-16zM767 897h8v8h-8zM911 897h16v8h-16zM759 905h16v8h-16zM911 905h24v8h-24zM751 913h80v8h-80zM903 913h40v8h-40zM743 921h48v8h-48zM847 921h8v8h-8zM887 921h48v8h-48zM759 929h16v8h-16zM759 937h8v8h-8zM759 945h8v8h-8zM759 953h8v8h-8zM767 969h8v8h-8zM775 977h8v8h-8zM775 985h8v8h-8zM775 993h8v8h-8zM775 1001h8v8h-8z"/>
<path fill="rgb(70,185,0)" d="M791 865h8v8h-8zM783 873h16v8h-16zM807 873h24v8h-24zM783 881h8v8h-8zM839 881h48v8h-48zM775 889h8v8h-8zM887 889h16v8h-16zM775 897h16v8h-16zM895 897h16v8h-16zM775 905h56v8h-56zM895 905h16v8h-16zM831 913h16v8h-16zM887 913h16v8h-16zM679 921h64v8h-64zM855 921h32v8h-32zM743 929h16v8h-16zM751 937h8v8h-8zM751 945h8v8h-8zM751 953h8v8h-8zM759 961h8v8h-8zM759 969h8v8h-8zM767 977h8v8h-8zM767 985h8v8h-8zM767 993h8v8h-8zM767 1001h8v8h-8z"/>
<path fill="rgb(67,188,0)" d="M799 873h8v8h-8zM791 881h48v8h-48zM783 889h104v8h-104zM791 897h48v8h-48zM879 897h16v8h-16zM831 905h16v8h-16zM887 905h8v8h-8zM847 913h8v8h-8zM879 913h8v8h-8zM719 929h24v8h-24zM743 937h8v8h-8zM743 945h8v8h-8zM751 961h8v8h-8zM759 977h8v8h-8zM759 985h8v8h-8zM759 993h8v8h-8zM759 1001h8v8h-8z"/>
<path fill="rgb(64,191,0)" d="M839 897h40v8h-40zM847 905h40v8h-40zM855 913h24v8h-24zM679 929h40v8h-40zM727 937h16v8h-16zM735 945h8v8h-8zM743 953h8v8h-8zM751 969h8v8h-8z"/>
<path fill="rgb(54,201,0)" d="M679 937h32v8h-32zM719 945h8v8h-8zM727 953h8v8h-8zM735 961h8v8h-8zM743 977h8v8h-8zM743 985h8v8h-8zM743 993h8v8h-8zM743 1001h8v8h-8z"/>
<path fill="rgb(57,198,0)" d="M711 937h8v8h-8zM727 945h8v8h-8zM743 969h8v8h-8z"/>
<path fill="rgb(61,194,0)" d="M719 937h8v8h-8zM735 953h8v8h-8zM743 961h8v8h-8zM751 977h8v8h-8zM751 985h8v8h-8zM751 993h8v8h-8zM751 1001h8v8h-8z"/>
<path fill="rgb(45,210,0)" d="M679 945h24v8h-24zM711 953h8v8h-8zM735 977h8v8h-8zM735 985h8v8h-8zM735 993h8v8h-8zM735 1001h8v8h-8z"/>
<path fill="rgb(48,207,0)" d="M703 945h8v8h-8zM719 953h8v8h-8zM727 961h8v8h-8z"/>
<path fill="rgb(51,204,0)" d="M711 945h8v8h-8zM735 969h8v8h-8z"/>
<path fill="rgb(35,220,0)" d="M679 953h24v8h-24zM711 961h8v8h-8zM719 969h8v8h-8zM727 977h8v8h-8zM727 985h8v8h-8zM727 993h8v8h-8zM727 1001h8v8h-8z"/>
<path fill="rgb(38,217,0)" d="M703 953h8v8h-8z"/>
<path fill="rgb(25,230,0)" d="M679 961h32v8h-32zM711 969h8v8h-8zM719 977h8v8h-8zM719 985h8v8h-8zM719 993h8v8h-8zM719 1001h8v8h-8z"/>
<path fill="rgb(41,214,0)" d="M719 961h8v8h-8zM727 969h8v8h-8z"/>
<path fill="rgb(13,242,0)" d="M679 969h24v8h-24z"/>
<path fill="rgb(16,239,0)" d="M703 969h8v8h-8zM711 977h8v8h-8zM711 985h8v8h-8zM711 993h8v8h-8zM711 1001h8v8h-8z"/>
<path fill="rgb(0,255,0)" d="M679 977h24v8h-24zM679 985h24v8h-24zM679 993h24v8h-24zM679 1001h24v8h-24z"/>
<path fill="rgb(3,252,0)" d="M703 977h8v8h-8zM703 985h8v8h-8zM703 993h8v8h-8zM703 1001h8v8h-8z"/>
</g></g>
<clipPath id="hc"><rect x="702" y="1019" width="492" height="474"/></clipPath>
<filter id="hcf" x="658" y="975" width="580" height="562" filterUnits="userSpaceOnUse"><feGaussianBlur stdDeviation="4"/></filter>
<g clip-path="url(#hc)"><g filter="url(#hcf)">
<path fill="rgb(0,255,0)" d="M678 995h544v8h-544zM678 1003h544v8h-544zM678 1011h544v8h-544zM678 1019h544v8h-544zM678 1027h544v8h-544zM678 1035h544v8h-544zM678 1043h544v8h-544zM678 1051h544v8h-544zM678 1059h544v8h-544zM678 1067h544v8h-544zM678 1075h544v8h-544zM678 1083h544v8h-544zM678 1091h544v8h-544zM678 1099h544v8h-544zM678 1107h544v8h-544zM678 1115h544v8h-544zM678 1123h544v8h-544zM678 1131h544v8h-544zM678 1139h544v8h-544zM678 1147h544v8h-544zM678 1155h544v8h-544zM678 1163h544v8h-544zM678 1171h544v8h-544zM678 1179h544v8h-544zM678 1187h544v8h-544zM678 1195h544v8h-544zM678 1203h544v8h-544zM678 1211h544v8h-544zM678 1219h216v8h-216zM926 1219h296v8h-296zM678 1227h200v8h-200zM950 1227h272v8h-272zM678 1235h184v8h-184zM966 1235h256v8h-256zM678 1243h176v8h-176zM974 1243h248v8h-248zM678 1251h168v8h-168zM982 1251h240v8h-240zM678 1259h160v8h-160zM982 1259h240v8h-240zM678 1267h160v8h-160zM990 1267h232v8h-232zM678 1275h152v8h-152zM990 1275h232v8h-232zM678 1283h152v8h-152zM998 1283h224v8h-224zM678 1291h152v8h-152zM998 1291h224v8h-224zM678 1299h152v8h-152zM998 1299h224v8h-224zM678 1307h152v8h-152zM998 1307h224v8h-224zM678 1315h152v8h-152zM998 1315h224v8h-224zM678 1323h152v8h-152zM990 1323h232v8h-232zM678 1331h160v8h-160zM990 1331h232v8h-232zM678 1339h160v8h-160zM990 1339h232v8h-232zM678 1347h168v8h-168zM982 1347h240v8h-240zM678 1355h168v8h-168zM974 1355h248v8h-248zM678 1363h176v8h-176zM966 1363h256v8h-256zM678 1371h192v8h-192zM958 1371h264v8h-264zM678 1379h208v8h-208zM942 1379h280v8h-280zM678 1387h544v8h-544zM678 1395h544v8h-544zM678 1403h544v8h-544zM678 1411h544v8h-544zM678 1419h544v8h-544zM678 1427h544v8h-544zM678 1435h544v8h-544zM678 1443h544v8h-544zM678 1451h544v8h-544zM678 1459h544v8h-544zM678 1467h544v8h-544zM678 1475h544v8h-544zM678 1483h544v8h-544zM678 1491h544v8h-544zM678 1499h544v8h-544zM678 1507h544v8h-544zM678 1515h544v8h-544z"/>
<path fill="rgb(3,252,0)" d="M894 1219h32v8h-32zM878 1227h72v8h-72zM862 1235h24v8h-24zM942 1235h24v8h-24zM854 1243h16v8h-16zM950 1243h24v8h-24zM846 1251h16v8h-16zM966 1251h16v8h-16zM838 1259h16v8h-16zM966 1259h16v8h-16zM838 1267h16v8h-16zM974 1267h16v8h-16zM830 1275h16v8h-16zM982 1275h8v8h-8zM830 1283h16v8h-16zM982 1283h16v8h-16zM830 1291h16v8h-16zM982 1291h16v8h-16zM830 1299h16v8h-16zM982 1299h16v8h-16zM830 1307h16v8h-16zM982 1307h16v8h-16zM830 1315h16v8h-16zM982 1315h16v8h-16zM830 1323h16v8h-16zM982 1323h8v8h-8zM838 1331h8v8h-8zM974 1331h16v8h-16zM838 1339h16v8h-16zM974 1339h16v8h-16zM846 1347h16v8h-16zM966 1347h16v8h-16zM846 1355h24v8h-24zM958 1355h16v8h-16zM854 1363h24v8h-24zM950 1363h16v8h-16zM870 1371h32v8h-32zM926 1371h32v8h-32zM886 1379h56v8h-56z"/>
<path fill="rgb(6,249,0)" d="M886 1235h56v8h-56zM870 1243h16v8h-16zM942 1243h8v8h-8zM862 1251h8v8h-8zM950 1251h16v8h-16zM854 1259h8v8h-8zM958 1259h8v8h-8zM854 1267h8v8h-8zM966 1267h8v8h-8zM846 1275h8v8h-8zM974 1275h8v8h-8zM846 1283h8v8h-8zM974 1283h8v8h-8zM974 1291h8v8h-8zM974 1299h8v8h-8zM974 1307h8v8h-8zM846 1315h8v8h-8zM974 1315h8v8h-8zM846 1323h8v8h-8zM974 1323h8v8h-8zM846 1331h8v8h-8zM966 1331h8v8h-8zM854 1339h8v8h-8zM966 1339h8v8h-8zM862 1347h8v8h-8zM958 1347h8v8h-8zM870 1355h8v8h-8zM950 1355h8v8h-8zM878 1363h16v8h-16zM926 1363h24v8h-24zM902 1371h24v8h-24z"/>
<path fill="rgb(10,245,0)" d="M886 1243h16v8h-16zM926 1243h16v8h-16zM870 1251h8v8h-8zM942 1251h8v8h-8zM862 1259h8v8h-8zM958 1267h8v8h-8zM854 1275h8v8h-8zM966 1275h8v8h-8zM966 1283h8v8h-8zM846 1291h8v8h-8zM846 1299h8v8h-8zM846 1307h8v8h-8zM854 1323h8v8h-8zM966 1323h8v8h-8zM854 1331h8v8h-8zM862 1339h8v8h-8zM958 1339h8v8h-8zM870 1347h8v8h-8zM950 1347h8v8h-8zM878 1355h8v8h-8zM934 1355h16v8h-16zM894 1363h32v8h-32z"/>
<path fill="rgb(13,242,0)" d="M902 1243h24v8h-24zM878 1251h16v8h-16zM934 1251h8v8h-8zM870 1259h8v8h-8zM950 1259h8v8h-8zM862 1267h8v8h-8zM958 1275h8v8h-8zM854 1283h8v8h-8zM854 1291h8v8h-8zM966 1291h8v8h-8zM854 1299h8v8h-8zM966 1299h8v8h-8zM854 1307h8v8h-8zM966 1307h8v8h-8zM854 1315h8v8h-8zM966 1315h8v8h-8zM862 1331h8v8h-8zM958 1331h8v8h-8zM950 1339h8v8h-8zM878 1347h8v8h-8zM942 1347h8v8h-8zM886 1355h16v8h-16zM926 1355h8v8h-8z"/>
<path fill="rgb(16,239,0)" d="M894 1251h8v8h-8zM926 1251h8v8h-8zM878 1259h8v8h-8zM942 1259h8v8h-8zM870 1267h8v8h-8zM950 1267h8v8h-8zM862 1275h8v8h-8zM958 1283h8v8h-8zM862 1323h8v8h-8zM958 1323h8v8h-8zM870 1339h8v8h-8zM934 1347h8v8h-8zM902 1355h24v8h-24z"/>
<path fill="rgb(19,236,0)" d="M902 1251h24v8h-24zM934 1259h8v8h-8zM950 1275h8v8h-8zM862 1283h8v8h-8zM958 1291h8v8h-8zM958 1299h8v8h-8zM958 1307h8v8h-8zM862 1315h8v8h-8zM958 1315h8v8h-8zM870 1331h8v8h-8zM950 1331h8v8h-8zM878 1339h8v8h-8zM942 1339h8v8h-8zM886 1347h8v8h-8zM926 1347h8v8h-8z"/>
<path fill="rgb(22,233,0)" d="M886 1259h8v8h-8zM878 1267h8v8h-8zM942 1267h8v8h-8zM870 1275h8v8h-8zM862 1291h8v8h-8zM862 1299h8v8h-8zM862 1307h8v8h-8zM894 1347h16v8h-16zM918 1347h8v8h-8z"/>
<path fill="rgb(25,230,0)" d="M894 1259h8v8h-8zM926 1259h8v8h-8zM950 1283h8v8h-8zM870 1323h8v8h-8zM950 1323h8v8h-8zM886 1339h8v8h-8zM934 1339h8v8h-8zM910 1347h8v8h-8z"/>
<path fill="rgb(29,226,0)" d="M902 1259h24v8h-24zM934 1267h8v8h-8zM942 1275h8v8h-8zM870 1283h8v8h-8zM950 1291h8v8h-8zM870 1315h8v8h-8zM878 1331h8v8h-8zM942 1331h8v8h-8z"/>
<path fill="rgb(32,223,0)" d="M886 1267h8v8h-8zM878 1275h8v8h-8zM870 1291h8v8h-8zM950 1299h8v8h-8zM870 1307h8v8h-8zM950 1315h8v8h-8zM894 1339h8v8h-8zM926 1339h8v8h-8z"/>
<path fill="rgb(38,217,0)" d="M894 1267h8v8h-8zM918 1267h8v8h-8zM934 1275h8v8h-8zM910 1339h16v8h-16z"/>
<path fill="rgb(41,214,0)" d="M902 1267h16v8h-16zM886 1275h8v8h-8zM878 1283h8v8h-8zM878 1315h8v8h-8zM942 1323h8v8h-8zM934 1331h8v8h-8z"/>
<path fill="rgb(35,220,0)" d="M926 1267h8v8h-8zM942 1283h8v8h-8zM870 1299h8v8h-8zM950 1307h8v8h-8zM878 1323h8v8h-8zM886 1331h8v8h-8zM902 1339h8v8h-8z"/>
<path fill="rgb(57,198,0)" d="M894 1275h8v8h-8zM918 1275h8v8h-8zM942 1299h8v8h-8zM942 1315h8v8h-8zM902 1331h8v8h-8z"/>
<path fill="rgb(67,188,0)" d="M902 1275h16v8h-16zM886 1315h8v8h-8z"/>
<path fill="rgb(48,207,0)" d="M926 1275h8v8h-8zM878 1291h8v8h-8zM886 1323h8v8h-8z"/>
<path fill="rgb(64,191,0)" d="M886 1283h8v8h-8zM942 1307h8v8h-8z"/>
<path fill="rgb(102,153,0)" d="M894 1283h8v8h-8zM918 1283h8v8h-8zM934 1299h8v8h-8z"/>
<path fill="rgb(140,115,0)" d="M902 1283h8v8h-8z"/>
<path fill="rgb(137,118,0)" d="M910 1283h8v8h-8zM910 1323h8v8h-8z"/>
<path fill="rgb(70,185,0)" d="M926 1283h8v8h-8zM934 1291h8v8h-8zM894 1323h8v8h-8zM910 1331h16v8h-16z"/>
<path fill="rgb(51,204,0)" d="M934 1283h8v8h-8zM878 1307h8v8h-8z"/>
<path fill="rgb(92,163,0)" d="M886 1291h8v8h-8zM886 1307h8v8h-8z"/>
<path fill="rgb(182,73,0)" d="M894 1291h8v8h-8zM926 1299h8v8h-8z"/>
<path fill="rgb(255,0,0)" d="M902 1291h16v8h-16zM902 1299h24v8h-24zM902 1307h24v8h-24z"/>
<path fill="rgb(188,67,0)" d="M918 1291h8v8h-8zM894 1307h8v8h-8zM926 1315h8v8h-8z"/>
<path fill="rgb(115,140,0)" d="M926 1291h8v8h-8zM926 1323h8v8h-8z"/>
<path fill="rgb(45,210,0)" d="M942 1291h8v8h-8zM894 1331h8v8h-8z"/>
<path fill="rgb(54,201,0)" d="M878 1299h8v8h-8z"/>
<path fill="rgb(105,150,0)" d="M886 1299h8v8h-8zM902 1323h8v8h-8z"/>
<path fill="rgb(226,29,0)" d="M894 1299h8v8h-8z"/>
<path fill="rgb(220,35,0)" d="M926 1307h8v8h-8z"/>
<path fill="rgb(124,131,0)" d="M934 1307h8v8h-8z"/>
<path fill="rgb(121,134,0)" d="M894 1315h8v8h-8z"/>
<path fill="rgb(194,61,0)" d="M902 1315h8v8h-8z"/>
<path fill="rgb(252,3,0)" d="M910 1315h8v8h-8z"/>
<path fill="rgb(249,6,0)" d="M918 1315h8v8h-8z"/>
<path fill="rgb(108,147,0)" d="M934 1315h8v8h-8z"/>
<path fill="rgb(143,112,0)" d="M918 1323h8v8h-8z"/>
<path fill="rgb(73,182,0)" d="M934 1323h8v8h-8z"/>
<path fill="rgb(61,194,0)" d="M926 1331h8v8h-8z"/>
</g></g>
<rect x="703.6" y="7.9" width="490.8" height="472.5" fill="none" stroke="#000" stroke-width="5.4"/>
<rect x="701.8" y="511.9" width="493.0" height="470.9" fill="none" stroke="#000" stroke-width="6.0"/>
<rect x="701.1" y="1018.2" width="494.4" height="473.0" fill="none" stroke="#000" stroke-width="6.0"/>
<defs><linearGradient id="cbg" x1="0" y1="0" x2="0" y2="1"><stop offset="0" stop-color="#ff0000"/><stop offset="1" stop-color="#00ff00"/></linearGradient></defs>
<rect x="1207.2" y="6.5" width="31.9" height="475.6" fill="url(#cbg)"/>
<rect x="1205.4" y="513.8" width="32.3" height="472.2" fill="url(#cbg)"/>
<rect x="1207.0" y="1013.8" width="32.2" height="473.9" fill="url(#cbg)"/>
<clipPath id="pc0"><rect x="77.2" y="6.3" width="595.8" height="501.5"/></clipPath>
<clipPath id="pc1"><rect x="76.0" y="507.8" width="594.3" height="499.4"/></clipPath>
<clipPath id="pc2"><rect x="74.5" y="1007.2" width="594.1" height="500.8"/></clipPath>
<path d="M78.0 446.1H79.7V445.5H81.3V446.2H83.0V445.6H84.5V446.2H86.1V446.8H87.7V447.3H89.2V447.6H90.8V444.7H92.4V442.1H94.0V441.3H95.8V441.4H97.6V437.3H99.4V436.2H100.9V435.6H102.5V430.6H104.0V430.3H105.8V427.5H107.5V421.3H109.5V407.2H111.5V393.1H113.0V376.4H114.6V363.4H115.6V329.6H117.3V325.9H119.0V321.9H120.8V319.4H122.7V318.7H124.7V283.8H126.2V262.8H127.8V241.1H129.5V201.1H130.5V190.9H131.5V221.4H132.5V192.2H133.5V223.3H134.5V194.8H135.5V221.5H136.5V195.5H137.5V219.6H138.5V187.9H140.0V177.2H142.0V168.1H143.5V171.5H145.0V171.0H146.5V173.0H148.0V172.3H150.0V179.8H151.1V201.4H152.1V224.4H153.2V247.3H155.2V280.5H156.2V311.3H158.0V325.7H159.2V328.0H160.3V331.5H161.8V338.4H163.3V343.6H164.7V337.6H166.0V334.4H167.5V333.2H168.9V330.0H170.4V330.3H172.2V326.8H174.0V323.1H175.5V319.4H177.1V318.2H178.6V313.4H180.1V313.1H181.5V312.7H183.0V312.8H184.9V311.5H186.8V309.9H188.7V310.1H190.3V308.6H191.8V307.2H193.4V305.3H195.0V304.7H197.0V304.0H198.9V304.1H200.9V303.3H202.4V296.3H204.0V289.9H205.5V288.0H207.0V285.4H208.5V285.7H210.0V287.0H211.6V288.5H213.1V286.7H214.6V284.3H216.0V277.3H217.6V272.9H219.2V268.8H221.2V255.4H223.2V240.4H224.9V237.5H226.6V231.0H227.9V226.3H229.3V222.2H230.4V213.8H231.4V207.1H233.4V195.5H234.9V194.0H236.3V191.9H237.8V187.6H239.8V186.1H241.8V183.5H243.8V179.4H245.8V178.1H247.7V176.4H249.6V175.2H251.6V173.7H253.5V169.1H255.4V167.5H257.1V167.8H258.7V165.0H260.4V164.2H262.0V164.2H263.6V162.8H265.1V164.7H266.6V164.8H268.2V162.1H270.1V165.4H272.0V168.0H273.4V170.1H274.8V169.3H276.2V170.5H277.8V176.0H279.4V179.3H281.0V180.2H283.0V182.2H285.0V184.3H287.0V185.9H289.0V184.9H290.9V187.5H292.8V188.9H294.8V189.0H296.7V188.8H298.6V189.3H300.1V188.5H301.5V188.6H303.0V184.5H305.0V176.4H306.6V188.8H308.2V188.9H309.8V190.2H311.4V190.9H313.0V187.7H314.6V183.4H316.2V177.8H317.8V171.5H319.4V166.8H321.0V162.4H322.6V159.7H324.2V155.6H325.8V148.1H327.4V141.7H329.0V140.0H330.6V135.1H332.2V129.3H333.8V126.9H335.4V123.6H337.0V120.1H338.6V118.8H340.2V112.7H341.8V111.4H343.2V111.3H344.6V110.5H346.0V113.8H347.2V103.9H348.5V100.8H349.8V94.5H351.0V104.4H352.8V109.1H354.6V112.6H356.2V110.9H357.8V107.8H359.4V102.5H361.0V100.1H362.6V93.3H364.2V90.2H365.8V87.8H367.4V84.7H369.0V80.7H370.6V81.0H372.2V77.8H373.8V71.9H375.4V70.2H376.7V66.7H378.0V64.8H379.9V62.1H381.8V61.2H382.9V63.5H384.0V61.5H385.3V65.5H386.6V68.0H388.2V67.6H389.8V63.5H391.4V65.5H393.0V70.0H394.6V72.3H396.2V74.7H397.8V78.5H399.4V80.8H401.0V82.7H402.6V99.6H403.8V101.2H405.0V99.0H407.0V95.6H409.0V95.2H410.6V92.4H412.2V96.1H413.8V95.0H415.4V93.8H417.0V95.1H418.6V93.4H420.2V94.8H421.8V95.3H423.4V100.6H425.0V102.1H426.6V109.3H428.2V110.6H429.8V113.8H431.4V115.5H433.0V120.0H434.6V122.6H436.2V123.8H437.8V124.1H439.4V128.9H441.0V128.4H442.6V133.8H444.2V135.2H445.8V138.7H447.4V144.5H449.0V149.8H450.6V160.9H452.0V153.5H453.7V151.8H455.3V154.0H457.0V153.9H459.0V149.5H460.9V150.7H462.9V148.1H464.4V151.6H466.0V152.2H467.6V154.7H469.2V159.6H470.8V159.4H472.8V161.5H474.7V161.2H476.7V160.7H478.6V163.5H480.6V164.4H482.6V166.9H484.5V167.4H486.5V168.1H488.5V172.1H490.4V171.3H492.4V173.1H494.4V181.2H496.2V178.3H498.0V176.6H499.4V176.7H500.9V173.5H502.3V173.8H504.3V169.8H506.2V165.5H508.2V161.3H510.2V159.3H512.1V158.9H514.1V154.5H516.0V145.9H518.0V138.5H519.7V135.1H521.3V127.5H523.0V124.2H524.5V116.2H525.9V113.0H527.4V109.6H528.9V106.1H530.3V112.9H531.8V115.0H533.8V125.1H535.8V133.3H537.2V142.7H538.7V153.5H540.2V160.6H541.7V167.5H543.7V171.8H545.6V176.4H547.6V183.8H549.6V185.0H551.5V190.3H553.5V193.0H555.5V197.3H557.5V204.3H559.4V210.1H561.4V213.8H562.9V213.4H564.5V217.6H566.0V215.6H567.7V218.2H569.5V220.3H571.2V223.1H573.2V228.1H575.1V232.7H577.1V237.3H579.1V243.6H581.0V248.6H583.0V253.6H585.0V258.0H587.0V258.8H588.9V262.2H590.9V265.5H592.8V268.4H594.8V272.2H596.8V273.0H598.8V277.1H600.7V278.9H602.7V282.9H604.7V283.8H606.7V287.5H608.6V289.1H610.6V292.2H612.5V297.2H614.5V298.0H616.5V304.8H618.5V308.5H620.4V311.9H622.4V319.2H623.9V318.8H625.5V323.1H627.0V322.4H628.8V326.6H630.5V327.0H632.3V329.6H634.3V333.2H636.2V333.4H638.2V335.6H640.2V337.5H642.1V337.1H644.1V341.1H646.1V344.1H648.1V344.4H650.0V348.4H652.0V350.3H654.0V354.6H656.0V354.3H657.9V357.8H659.8V360.7H661.8V362.5H663.8V363.4H665.8V368.7H667.7V369.7H669.7V373.5" fill="none" stroke="#850000" stroke-width="6.0" stroke-linejoin="miter" stroke-linecap="square" clip-path="url(#pc0)"/>
<path d="M78.3 947.0 L83.9 934.0 L90.0 938.0 L94.9 941.0 L99.4 912.0" fill="none" stroke="#850000" stroke-width="15" stroke-linejoin="round" stroke-linecap="round" clip-path="url(#pc1)"/>
<path d="M94.9 941.0 L99.4 912.0 L106.0 890.0 L112.6 863.5 L114.8 830.0 L121.5 808.0 L128.1 782.0 L132.6 757.0 L135.9 731.0 L139.2 709.0 L143.6 682.0 L146.0 660.0" fill="none" stroke="#850000" stroke-width="5.5" stroke-linejoin="round" stroke-linecap="round" clip-path="url(#pc1)"/>
<path d="M154.7 722.0 L159.1 748.0 L163.0 746.0 L168.0 745.0 L172.4 738.0 L179.0 748.0 L185.7 730.0 L196.8 702.0 L207.8 691.0 L216.7 693.0 L225.5 669.0 L234.4 655.0 L245.5 638.0 L256.0 614.0 L268.8 600.0 L280.0 607.0 L292.8 611.0 L308.8 607.0 L320.0 604.0 L336.0 610.0 L348.8 600.0 L368.0 613.0 L382.4 590.0 L393.6 592.0 L408.0 610.0 L424.0 623.0 L440.0 629.0 L456.0 630.0 L468.8 638.0 L482.0 636.0 L493.0 658.0 L507.0 660.0 L519.0 656.0 L531.5 637.0 L536.0 641.0 L545.0 667.0 L556.0 691.0 L567.0 691.0 L578.0 706.0 L585.0 731.0 L598.0 749.0 L608.5 761.0 L621.0 767.0 L635.0 786.0 L647.0 802.0 L659.0 811.0 L667.0 818.0" fill="none" stroke="#850000" stroke-width="16" stroke-linejoin="round" stroke-linecap="round" clip-path="url(#pc1)"/>
<path d="M78.3 953.2 L79.2 948.5 L80.2 959.4 L81.1 931.6 L82.0 930.9 L83.0 926.6 L83.9 940.6 L84.8 935.2 L85.6 933.2 L86.5 936.7 L87.4 928.8 L88.3 917.8 L89.1 936.7 L90.0 929.5 L91.0 937.4 L92.0 957.3 L92.9 927.6 L93.9 945.5 L94.9 944.8 L95.8 922.9 L96.7 923.2 L97.6 936.5 L97.6 918.6 L101.4 908.9 L103.3 909.5 L101.3 908.3 L101.8 905.9 L101.8 906.0 L104.4 895.1 L104.7 899.8 L107.8 891.5 L106.1 885.9 L110.8 878.3 L111.2 882.9 L108.1 872.6 L111.1 874.1 L114.4 872.6 L111.3 859.3 L113.3 852.6 L115.0 836.1 L115.7 834.7 L118.2 831.6 L119.2 828.4 L115.0 824.5 L117.3 814.0 L119.3 818.6 L121.2 808.5 L120.7 812.6 L124.4 800.5 L121.9 800.3 L122.6 799.4 L123.6 796.1 L128.8 795.6 L124.8 783.7 L127.6 784.6 L128.3 774.2 L129.0 767.9 L133.0 768.3 L131.2 763.1 L132.7 756.0 L132.6 749.2 L137.2 746.6 L137.0 732.4 L135.9 729.0 L134.3 723.9 L135.0 716.5 L140.2 716.3 L140.4 703.5 L138.1 701.5 L138.5 696.5 L144.6 694.3 L140.9 686.5 L146.4 682.6 L143.6 675.0 L145.2 667.0 L146.0 661.0 L146.7 657.9 L147.4 653.3 L148.1 650.7 L149.1 655.6 L150.0 665.3 L150.7 675.2 L151.4 680.1 L152.2 691.4 L153.1 701.2 L153.9 701.7 L154.7 734.0 L155.6 724.2 L156.5 730.6 L157.3 751.3 L158.2 727.1 L159.1 761.5 L160.1 735.7 L161.1 743.5 L162.0 746.6 L163.0 746.0 L164.0 731.8 L165.0 742.1 L166.0 744.2 L167.0 764.9 L168.0 762.9 L168.9 749.1 L169.8 757.9 L170.6 752.0 L171.5 732.0 L172.4 720.1 L173.3 737.3 L174.3 729.1 L175.2 720.9 L176.2 757.1 L177.1 760.2 L178.1 748.8 L179.0 754.4 L180.0 754.2 L180.9 760.4 L181.9 741.7 L182.8 742.3 L183.8 727.1 L184.7 725.0 L185.7 732.1 L186.6 720.3 L187.5 711.5 L188.5 720.7 L189.4 730.8 L190.3 711.2 L191.2 727.1 L192.2 717.5 L193.1 711.9 L194.0 716.8 L195.0 686.6 L195.9 688.7 L196.8 713.0 L197.8 714.3 L198.8 687.5 L199.8 712.1 L200.8 689.0 L201.8 691.1 L202.8 688.7 L203.8 691.5 L204.8 691.9 L205.8 703.8 L206.8 690.1 L207.8 681.1 L208.8 685.3 L209.8 678.7 L210.8 679.2 L211.8 689.2 L212.7 690.6 L213.7 683.1 L214.7 686.0 L215.7 678.9 L216.7 694.3 L217.7 686.0 L218.7 679.1 L219.6 687.0 L220.6 678.3 L221.6 678.6 L222.6 671.5 L223.5 685.1 L224.5 668.1 L225.5 681.5 L226.5 664.3 L227.5 655.4 L228.5 667.8 L229.5 667.2 L230.4 669.8 L231.4 649.1 L232.4 664.7 L233.4 664.7 L234.4 648.3 L235.3 650.3 L236.2 653.0 L237.2 642.2 L238.1 657.8 L239.0 653.2 L239.9 657.3 L240.9 646.8 L241.8 648.2 L242.7 638.8 L243.7 640.2 L244.6 648.5 L245.5 651.5 L246.5 626.6 L247.4 620.2 L248.4 617.4 L249.3 624.3 L250.3 634.4 L251.2 609.4 L252.2 619.2 L253.1 619.8 L254.1 631.9 L255.0 601.6 L256.0 593.0 L257.0 612.3 L258.0 604.9 L259.0 601.8 L259.9 622.2 L260.9 619.2 L261.9 594.8 L262.9 614.5 L263.9 624.1 L264.9 626.7 L265.8 585.3 L266.8 615.2 L267.8 579.0 L268.8 602.3 L269.7 598.1 L270.7 613.4 L271.6 601.6 L272.5 580.3 L273.5 608.2 L274.4 593.3 L275.3 619.5 L276.3 587.0 L277.2 599.9 L278.1 614.9 L279.1 593.2 L280.0 614.3 L281.0 617.2 L282.0 620.0 L283.0 627.2 L283.9 608.9 L284.9 597.8 L285.9 602.0 L286.9 605.7 L287.9 589.3 L288.9 614.4 L289.8 585.4 L290.8 584.5 L291.8 621.9 L292.8 618.6 L293.8 597.8 L294.8 604.1 L295.8 626.6 L296.8 619.2 L297.8 604.5 L298.8 611.4 L299.8 627.2 L300.8 590.0 L301.8 630.6 L302.8 612.3 L303.8 596.2 L304.8 622.4 L305.8 591.8 L306.8 605.0 L307.8 610.2 L308.8 594.2 L309.7 618.7 L310.7 608.9 L311.6 585.3 L312.5 585.0 L313.5 582.4 L314.4 606.0 L315.3 592.5 L316.3 609.9 L317.2 623.4 L318.1 626.8 L319.1 594.4 L320.0 602.1 L321.0 604.3 L322.0 601.2 L323.0 601.5 L324.0 602.8 L325.0 615.4 L326.0 597.1 L327.0 599.4 L328.0 601.7 L329.0 591.3 L330.0 610.6 L331.0 600.0 L332.0 621.1 L333.0 617.3 L334.0 593.8 L335.0 596.8 L336.0 622.7 L337.0 615.4 L338.0 593.9 L339.0 620.4 L339.9 609.5 L340.9 623.7 L341.9 618.9 L342.9 622.9 L343.9 610.4 L344.9 617.1 L345.8 589.4 L346.8 591.3 L347.8 579.5 L348.8 613.5 L349.8 584.7 L350.7 602.0 L351.7 600.4 L352.6 613.3 L353.6 595.8 L354.6 586.5 L355.5 598.4 L356.5 587.0 L357.4 600.6 L358.4 617.2 L359.4 595.2 L360.3 635.4 L361.3 616.0 L362.2 604.7 L363.2 624.9 L364.2 593.4 L365.1 599.4 L366.1 624.5 L367.0 595.5 L368.0 617.7 L369.0 590.2 L369.9 609.3 L370.9 614.4 L371.8 594.8 L372.8 598.4 L373.8 606.1 L374.7 605.9 L375.7 586.2 L376.6 596.0 L377.6 620.4 L378.6 592.0 L379.5 611.4 L380.5 586.2 L381.4 595.5 L382.4 595.1 L383.3 596.4 L384.3 598.9 L385.2 599.6 L386.1 593.4 L387.1 596.8 L388.0 600.2 L388.9 578.0 L389.9 601.1 L390.8 590.7 L391.7 582.1 L392.7 580.2 L393.6 606.0 L394.6 601.9 L395.5 578.8 L396.5 601.1 L397.4 579.1 L398.4 595.0 L399.4 604.3 L400.3 609.6 L401.3 590.7 L402.2 587.2 L403.2 609.8 L404.2 619.5 L405.1 617.4 L406.1 597.7 L407.0 606.0 L408.0 612.0 L409.0 619.5 L410.0 605.9 L411.0 625.4 L412.0 605.8 L413.0 605.2 L414.0 610.9 L415.0 630.6 L416.0 637.5 L417.0 619.7 L418.0 628.6 L419.0 604.8 L420.0 620.6 L421.0 618.3 L422.0 619.3 L423.0 610.1 L424.0 628.8 L425.0 630.3 L426.0 627.5 L427.0 630.4 L428.0 617.2 L429.0 633.4 L430.0 622.4 L431.0 637.6 L432.0 620.9 L433.0 636.5 L434.0 618.6 L435.0 616.0 L436.0 652.4 L437.0 628.4 L438.0 613.3 L439.0 635.5 L440.0 647.1 L441.0 638.8 L442.0 647.5 L443.0 645.5 L444.0 625.9 L445.0 616.9 L446.0 609.8 L447.0 617.9 L448.0 632.0 L449.0 642.8 L450.0 604.3 L451.0 639.2 L452.0 638.6 L453.0 638.0 L454.0 617.3 L455.0 616.7 L456.0 647.0 L457.0 643.8 L458.0 631.8 L459.0 629.1 L459.9 613.8 L460.9 652.1 L461.9 644.2 L462.9 649.7 L463.9 643.8 L464.9 630.2 L465.8 648.2 L466.8 622.6 L467.8 643.6 L468.8 625.8 L469.7 631.8 L470.7 651.5 L471.6 632.7 L472.6 653.0 L473.5 641.9 L474.5 630.9 L475.4 631.4 L476.3 622.0 L477.3 646.5 L478.2 657.1 L479.2 629.5 L480.1 637.3 L481.1 652.8 L482.0 629.1 L483.0 649.0 L484.0 646.2 L485.0 636.7 L486.0 645.1 L487.0 628.2 L488.0 648.1 L489.0 659.9 L490.0 643.3 L491.0 638.8 L492.0 639.7 L493.0 646.3 L494.0 649.5 L495.0 670.9 L496.0 659.7 L497.0 663.6 L498.0 656.4 L499.0 655.7 L500.0 663.7 L501.0 668.7 L502.0 646.0 L503.0 652.9 L504.0 659.0 L505.0 670.0 L506.0 646.1 L507.0 652.4 L508.0 660.7 L509.0 647.1 L510.0 665.4 L511.0 678.9 L512.0 653.4 L513.0 659.9 L514.0 645.8 L515.0 659.3 L516.0 675.2 L517.0 659.7 L518.0 648.1 L519.0 651.5 L520.0 661.2 L520.9 667.2 L521.9 649.6 L522.8 647.5 L523.8 655.6 L524.8 627.4 L525.7 656.0 L526.7 637.6 L527.7 633.1 L528.6 650.0 L529.6 632.3 L530.5 629.0 L531.5 633.0 L532.4 649.1 L533.3 628.9 L534.2 641.2 L535.1 633.0 L536.0 643.7 L537.0 631.0 L538.0 656.4 L539.0 664.7 L540.0 646.1 L541.0 650.3 L542.0 661.5 L543.0 668.5 L544.0 645.5 L545.0 669.3 L546.0 675.7 L547.0 677.1 L548.0 667.7 L549.0 685.7 L550.0 680.5 L551.0 672.3 L552.0 679.9 L553.0 693.9 L554.0 694.2 L555.0 703.9 L556.0 700.9 L557.0 680.8 L558.0 685.8 L559.0 698.6 L560.0 687.0 L561.0 679.0 L562.0 705.1 L563.0 687.9 L564.0 682.7 L565.0 689.5 L566.0 681.2 L567.0 679.7 L568.0 695.3 L569.0 702.4 L570.0 691.6 L571.0 686.2 L572.0 701.1 L573.0 701.4 L574.0 704.5 L575.0 698.1 L576.0 716.7 L577.0 695.2 L578.0 688.1 L579.0 713.5 L580.0 717.5 L581.0 702.8 L582.0 704.8 L583.0 724.2 L584.0 741.1 L585.0 721.5 L586.0 733.5 L587.0 724.8 L588.0 743.1 L589.0 734.6 L590.0 733.3 L591.0 745.8 L592.0 744.3 L593.0 735.3 L594.0 745.6 L595.0 766.6 L596.0 761.5 L597.0 750.6 L598.0 754.8 L599.0 734.7 L599.9 743.5 L600.9 762.2 L601.8 733.5 L602.8 769.0 L603.7 766.4 L604.7 762.8 L605.6 752.7 L606.6 743.2 L607.5 753.4 L608.5 773.1 L609.5 759.7 L610.4 775.9 L611.4 751.7 L612.3 778.2 L613.3 781.2 L614.3 776.8 L615.2 756.2 L616.2 757.2 L617.2 749.9 L618.1 747.7 L619.1 774.5 L620.0 761.9 L621.0 771.6 L622.0 751.9 L623.0 756.4 L624.0 782.6 L625.0 790.9 L626.0 757.5 L627.0 789.7 L628.0 783.1 L629.0 761.6 L630.0 788.1 L631.0 774.3 L632.0 777.5 L633.0 804.2 L634.0 795.9 L635.0 768.7 L636.0 796.7 L637.0 770.0 L638.0 807.4 L639.0 795.1 L640.0 795.8 L641.0 769.2 L642.0 771.7 L643.0 791.0 L644.0 787.0 L645.0 808.7 L646.0 790.5 L647.0 799.8 L648.0 791.4 L649.0 809.8 L650.0 829.7 L651.0 800.5 L652.0 821.6 L653.0 794.0 L654.0 823.4 L655.0 807.5 L656.0 791.8 L657.0 820.4 L658.0 825.9 L659.0 795.4 L660.0 794.5 L661.0 799.9 L662.0 810.5 L663.0 828.6 L664.0 825.4 L665.0 804.6 L666.0 795.4 L667.0 818.0" fill="none" stroke="#850000" stroke-width="4.2" stroke-linejoin="round" clip-path="url(#pc1)"/>
<path d="M77.7 1462.3H77.7V1439.0H77.7V1420.5H78.8V1421.5H80.0V1419.0H81.8V1420.1H83.7V1421.3H85.5V1424.1H86.8V1419.6H88.0V1416.9H89.4V1415.7H90.7V1413.4H92.1V1410.7H93.8V1407.6H95.4V1406.8H97.1V1402.4H98.8V1401.0H100.5V1397.5H102.1V1394.7H103.8V1390.4H105.4V1386.9H107.1V1377.1H108.7V1362.9H109.8V1352.4H111.0V1342.6H112.5V1338.6H114.0V1336.6H115.6V1335.7H117.1V1332.8H118.7V1331.2H120.5V1328.4H122.4V1323.3H124.2V1318.0H125.9V1307.6H127.6V1297.6H128.7V1284.5H130.1V1282.5H131.6V1280.5H133.0V1281.0H134.7V1276.7H136.4V1275.7H137.5V1262.9H138.6V1254.0H140.3V1250.2H142.0V1246.0H143.7V1243.7H145.3V1242.0H146.7V1245.4H148.0V1248.2H149.7V1257.8H151.3V1265.0H153.0V1274.8H154.5V1277.9H155.9V1279.2H157.4V1282.9H159.1V1275.0H160.8V1267.8H162.3V1267.2H163.7V1263.7H165.2V1261.8H166.8V1263.2H168.4V1264.9H170.0V1264.2H172.0V1266.6H174.0V1266.3H175.5V1262.0H177.0V1258.2H178.5V1256.3H180.3V1253.6H182.0V1249.8H183.8V1246.6H185.5V1245.8H187.3V1240.4H189.0V1237.2H190.7V1235.1H192.7V1234.5H194.7V1232.0H196.6V1231.6H198.6V1230.4H200.6V1230.0H201.7V1224.3H202.8V1218.5H204.6V1216.8H206.4V1215.7H208.1V1213.3H209.9V1213.3H211.7V1210.5H213.3V1207.0H215.0V1205.7H216.7V1203.3H218.3V1199.3H219.8V1193.9H221.3V1191.3H222.8V1187.1H224.6V1184.4H226.3V1180.8H228.1V1177.4H229.8V1173.6H231.6V1170.2H233.4V1166.1H235.2V1164.7H236.9V1160.4H238.7V1156.1H240.5V1152.1H242.4V1149.2H244.2V1147.1H246.1V1142.2H248.0V1138.3H250.0V1137.7H252.0V1135.9H254.0V1135.4H256.0V1133.4H258.0V1133.5H260.0V1135.3H262.0V1135.4H264.0V1133.8H265.6V1136.1H267.2V1138.6H268.8V1139.6H270.4V1143.5H271.9V1142.6H273.5V1140.4H275.0V1141.1H276.7V1139.5H278.3V1137.9H280.0V1138.3H281.6V1132.6H283.2V1126.9H284.8V1121.7H286.8V1119.6H288.8V1116.2H290.8V1114.2H292.8V1111.1H294.7V1111.6H296.5V1110.4H298.4V1109.7H300.3V1111.2H302.1V1108.4H304.0V1108.2H305.9V1110.0H307.8V1110.0H309.8V1110.0H311.7V1111.3H313.6V1110.1H315.2V1112.1H316.8V1115.1H318.4V1116.1H320.0V1115.3H321.6V1113.6H323.2V1110.9H324.8V1108.7H326.4V1102.7H328.0V1099.9H329.6V1097.5H331.6V1095.4H333.6V1092.7H335.6V1090.8H337.6V1087.7H339.6V1085.3H341.6V1082.4H343.6V1082.3H345.6V1078.2H347.2V1077.8H348.8V1072.6H350.4V1072.4H352.0V1069.3H353.6V1069.1H355.2V1072.1H356.8V1073.4H358.4V1074.6H360.0V1079.3H361.6V1084.1H363.2V1087.1H364.8V1088.9H366.4V1093.3H368.0V1094.8H369.6V1092.5H371.2V1093.0H372.8V1089.4H374.4V1088.2H376.3V1088.6H378.2V1088.6H380.2V1086.9H382.1V1085.8H384.0V1087.0H385.9V1088.0H387.8V1089.4H389.8V1089.0H391.7V1091.5H393.6V1092.4H395.2V1093.0H396.8V1093.1H398.4V1093.3H400.0V1093.4H401.9V1097.1H403.8V1098.2H405.8V1102.3H407.7V1105.5H409.6V1108.4H411.5V1106.3H413.3V1106.5H415.2V1108.0H417.1V1107.3H418.9V1105.3H420.8V1106.0H422.7V1107.5H424.6V1108.3H426.6V1108.0H428.5V1107.4H430.4V1108.4H432.3V1108.8H434.2V1110.2H436.2V1110.9H438.1V1113.6H440.0V1114.6H441.6V1117.4H443.2V1122.3H444.8V1123.8H446.4V1127.5H448.0V1133.5H449.6V1138.1H451.2V1141.7H452.8V1147.9H454.4V1151.1H456.0V1155.1H457.6V1158.4H459.5V1159.4H461.4V1158.2H463.4V1159.2H465.3V1160.5H467.2V1160.7H468.6V1161.7H470.0V1161.6H471.9V1163.5H473.8V1166.5H475.7V1167.6H477.6V1168.4H479.5V1167.4H481.4V1168.1H483.3V1169.1H485.2V1171.5H487.2V1170.4H489.1V1171.1H491.0V1171.8H492.9V1177.4H494.8V1181.1H496.7V1186.3H498.6V1188.4H500.5V1190.3H502.4V1194.4H504.3V1194.3H506.2V1197.9H508.1V1196.6H510.0V1194.5H512.0V1193.7H513.9V1194.1H515.8V1188.3H517.7V1187.1H519.6V1180.7H521.5V1170.6H523.4V1161.4H525.3V1156.8H527.2V1156.1H529.1V1151.3H531.0V1152.2H532.9V1154.4H534.8V1157.3H536.7V1167.8H538.6V1175.6H540.5V1185.5H542.5V1195.5H544.4V1203.4H546.3V1211.2H548.2V1217.7H550.1V1224.2H552.0V1232.0H553.9V1238.4H555.8V1239.9H557.7V1244.4H559.6V1244.9H561.5V1249.6H563.4V1251.8H565.3V1252.7H567.3V1255.0H569.2V1255.1H571.1V1259.3H573.0V1262.1H574.9V1265.2H576.8V1268.5H578.7V1270.6H580.6V1275.8H582.5V1278.1H584.4V1281.5H586.3V1288.8H588.2V1298.7H590.1V1302.0H592.1V1308.0H594.0V1310.4H595.9V1312.5H597.8V1314.7H599.7V1317.1H601.6V1320.3H603.5V1319.8H605.4V1324.4H607.3V1326.0H609.2V1330.0H611.1V1332.9H613.0V1335.6H614.9V1338.0H616.8V1339.1H618.8V1340.4H620.7V1342.9H622.6V1343.4H624.5V1349.2H626.4V1351.0H628.3V1356.9H630.2V1358.4H632.1V1364.5H634.0V1364.6H635.9V1367.1H637.8V1370.1H639.7V1374.4H641.6V1375.8H643.5V1377.4H645.4V1380.0H647.4V1379.7H649.3V1382.7H651.2V1383.8H653.1V1383.6H655.0V1386.2H656.4V1379.4H657.8V1374.0H658.8V1388.5H660.7V1390.9H662.6V1391.0H664.5V1392.7H666.2V1396.1H668.0V1396.0" fill="none" stroke="#850000" stroke-width="6.0" stroke-linejoin="miter" stroke-linecap="square" clip-path="url(#pc2)"/>
<rect x="77.2" y="6.3" width="595.8" height="501.5" fill="none" stroke="#000" stroke-width="5.6"/>
<rect x="76.0" y="507.8" width="594.3" height="499.4" fill="none" stroke="#000" stroke-width="6.2"/>
<rect x="74.5" y="1007.2" width="594.1" height="500.8" fill="none" stroke="#000" stroke-width="6.4"/>
<line x1="74.5" y1="1508" x2="74.5" y2="1518.8" stroke="#000" stroke-width="6.4"/>
<line x1="193.6" y1="1508" x2="193.6" y2="1518.8" stroke="#000" stroke-width="6.4"/>
<line x1="312.4" y1="1508" x2="312.4" y2="1518.8" stroke="#000" stroke-width="6.4"/>
<line x1="432.2" y1="1508" x2="432.2" y2="1518.8" stroke="#000" stroke-width="6.4"/>
<line x1="550.8" y1="1508" x2="550.8" y2="1518.8" stroke="#000" stroke-width="6.4"/>
<line x1="668.6" y1="1508" x2="668.6" y2="1518.8" stroke="#000" stroke-width="6.4"/>
<text transform="translate(0,1565.16) scale(0.9700,1)" x="37.00" y="0" style="font-family:'Liberation Sans', Arial, sans-serif;font-weight:bold;font-size:53.52px;letter-spacing:-3.25px" fill="#000" stroke="#fff" stroke-width="0.8">550</text>
<text transform="translate(0,1565.16) scale(0.9700,1)" x="159.52" y="0" style="font-family:'Liberation Sans', Arial, sans-serif;font-weight:bold;font-size:53.52px;letter-spacing:-3.12px" fill="#000" stroke="#fff" stroke-width="0.8">600</text>
<text transform="translate(0,1565.16) scale(0.9700,1)" x="281.99" y="0" style="font-family:'Liberation Sans', Arial, sans-serif;font-weight:bold;font-size:53.52px;letter-spacing:-3.12px" fill="#000" stroke="#fff" stroke-width="0.8">650</text>
<text transform="translate(0,1565.16) scale(0.9700,1)" x="404.96" y="0" style="font-family:'Liberation Sans', Arial, sans-serif;font-weight:bold;font-size:53.52px;letter-spacing:-2.85px" fill="#000" stroke="#fff" stroke-width="0.8">700</text>
<text transform="translate(0,1565.16) scale(0.9700,1)" x="527.23" y="0" style="font-family:'Liberation Sans', Arial, sans-serif;font-weight:bold;font-size:53.52px;letter-spacing:-2.85px" fill="#000" stroke="#fff" stroke-width="0.8">750</text>
<text transform="translate(0,1565.16) scale(0.9700,1)" x="649.48" y="0" style="font-family:'Liberation Sans', Arial, sans-serif;font-weight:bold;font-size:53.52px;letter-spacing:-3.25px" fill="#000" stroke="#fff" stroke-width="0.8">800</text>
<text transform="translate(0,1613.16) scale(0.9800,1)" x="190.82" y="0" style="font-family:'Liberation Sans', Arial, sans-serif;font-weight:bold;font-size:49.73px;letter-spacing:-1.05px" fill="#000" stroke="#fff" stroke-width="0.6">Wavelength (nm)</text>
<text transform="translate(47.70,424.80) rotate(-90)" x="-3.61" y="0" style="font-family:'Liberation Sans', Arial, sans-serif;font-weight:bold;font-size:55.50px;letter-spacing:-0.94px" fill="#000" stroke="#fff" stroke-width="1.3">Intensity (a.u)</text>
<text transform="translate(42.70,923.30) rotate(-90)" x="-3.61" y="0" style="font-family:'Liberation Sans', Arial, sans-serif;font-weight:bold;font-size:55.50px;letter-spacing:-0.94px" fill="#000" stroke="#fff" stroke-width="1.3">Intensity (a.u)</text>
<text transform="translate(42.70,1428.40) rotate(-90)" x="-3.61" y="0" style="font-family:'Liberation Sans', Arial, sans-serif;font-weight:bold;font-size:55.50px;letter-spacing:-0.94px" fill="#000" stroke="#fff" stroke-width="1.3">Intensity (a.u)</text>
<text transform="translate(0,73.71) scale(0.8888,1)" x="96.54 123.18" y="0" style="font-family:'Liberation Sans', Arial, sans-serif;font-weight:bold;font-size:71.87px" fill="#000">(a</text>
<text transform="translate(0,88.80) scale(1.0000,1)" x="147.51" y="0" style="font-family:'Liberation Sans', Arial, sans-serif;font-weight:bold;font-size:47.54px" fill="#000" >I</text>
<text transform="translate(0,73.71) scale(0.8746,1)" x="186.47" y="0" style="font-family:'Liberation Sans', Arial, sans-serif;font-weight:bold;font-size:71.87px" fill="#000">)</text>
<text transform="translate(0,571.22) scale(0.9536,1)" x="86.66 111.09" y="0" style="font-family:'Liberation Sans', Arial, sans-serif;font-weight:bold;font-size:70.37px" fill="#000">(b</text>
<text transform="translate(0,587.00) scale(1.0000,1)" x="148.89" y="0" style="font-family:'Liberation Sans', Arial, sans-serif;font-weight:bold;font-size:47.83px" fill="#000" >I</text>
<text transform="translate(0,571.22) scale(0.8374,1)" x="197.65" y="0" style="font-family:'Liberation Sans', Arial, sans-serif;font-weight:bold;font-size:70.37px" fill="#000">)</text>
<text transform="translate(0,1081.65) scale(0.9235,1)" x="103.40 128.37" y="0" style="font-family:'Liberation Sans', Arial, sans-serif;font-weight:bold;font-size:71.66px" fill="#000">(c</text>
<text transform="translate(0,1097.00) scale(1.0000,1)" x="157.27" y="0" style="font-family:'Liberation Sans', Arial, sans-serif;font-weight:bold;font-size:48.12px" fill="#000" >I</text>
<text transform="translate(0,1081.65) scale(0.8572,1)" x="201.68" y="0" style="font-family:'Liberation Sans', Arial, sans-serif;font-weight:bold;font-size:71.66px" fill="#000">)</text>
<text transform="translate(0,74.30) scale(0.8612,1)" x="852.69 879.76" y="0" style="font-family:'Liberation Sans', Arial, sans-serif;font-weight:bold;font-size:70.48px" fill="#000">(a</text>
<text transform="translate(0,89.10) scale(1.0000,1)" x="795.35" y="0" style="font-family:'Liberation Sans', Arial, sans-serif;font-weight:bold;font-size:48.41px;letter-spacing:-0.27px" fill="#000" >II</text>
<text transform="translate(0,74.30) scale(0.8817,1)" x="935.69" y="0" style="font-family:'Liberation Sans', Arial, sans-serif;font-weight:bold;font-size:70.48px" fill="#000">)</text>
<text transform="translate(0,591.22) scale(0.9409,1)" x="765.07 790.27" y="0" style="font-family:'Liberation Sans', Arial, sans-serif;font-weight:bold;font-size:70.37px" fill="#000">(b</text>
<text transform="translate(0,606.00) scale(1.0000,1)" x="786.82" y="0" style="font-family:'Liberation Sans', Arial, sans-serif;font-weight:bold;font-size:48.99px;letter-spacing:-0.52px" fill="#000" >II</text>
<text transform="translate(0,591.22) scale(0.8577,1)" x="951.54" y="0" style="font-family:'Liberation Sans', Arial, sans-serif;font-weight:bold;font-size:70.37px" fill="#000">)</text>
<text transform="translate(0,1089.30) scale(0.9226,1)" x="780.37 806.01" y="0" style="font-family:'Liberation Sans', Arial, sans-serif;font-weight:bold;font-size:70.48px" fill="#000">(c</text>
<text transform="translate(0,1104.10) scale(1.0000,1)" x="782.02" y="0" style="font-family:'Liberation Sans', Arial, sans-serif;font-weight:bold;font-size:48.99px;letter-spacing:-0.92px" fill="#000" >II</text>
<text transform="translate(0,1089.30) scale(0.8361,1)" x="970.36" y="0" style="font-family:'Liberation Sans', Arial, sans-serif;font-weight:bold;font-size:70.48px" fill="#000">)</text>
<text transform="translate(0,161.50) scale(0.9325,1)" x="99.76 128.46" y="0" style="font-family:'Liberation Sans', Arial, sans-serif;font-weight:bold;font-size:53.91px" fill="#000">NV</text>
<text transform="translate(0,139.11) scale(1.0132,1)" x="153.80" y="0" style="font-family:'Liberation Sans', Arial, sans-serif;font-weight:normal;font-size:29.09px" fill="#000">o</text>
<text transform="translate(0,139.30) scale(0.9393,1)" x="255.21 287.44" y="0" style="font-family:'Liberation Sans', Arial, sans-serif;font-weight:bold;font-size:53.62px" fill="#000">NV</text>
<text transform="translate(303.00,111.04) scale(0.9545,1)" x="0" y="0" style="font-family:'Liberation Sans', Arial, sans-serif;font-weight:bold;font-size:22.00px" fill="#000">—</text>
<text transform="translate(0,640.60) scale(0.9463,1)" x="98.34 133.99" y="0" style="font-family:'Liberation Sans', Arial, sans-serif;font-weight:bold;font-size:52.61px" fill="#000">NV</text>
<text transform="translate(0,618.64) scale(0.9798,1)" x="162.58" y="0" style="font-family:'Liberation Sans', Arial, sans-serif;font-weight:bold;font-size:35.82px" fill="#000">o</text>
<text transform="translate(0,565.30) scale(0.9395,1)" x="255.15 292.93" y="0" style="font-family:'Liberation Sans', Arial, sans-serif;font-weight:bold;font-size:54.06px" fill="#000">NV</text>
<text transform="translate(308.30,537.06) scale(1.0609,1)" x="0" y="0" style="font-family:'Liberation Sans', Arial, sans-serif;font-weight:bold;font-size:23.00px" fill="#000">—</text>
<text transform="translate(0,1101.00) scale(0.9232,1)" x="234.46 271.01" y="0" style="font-family:'Liberation Sans', Arial, sans-serif;font-weight:bold;font-size:54.06px" fill="#000">NV</text>
<text transform="translate(283.30,1072.36) scale(1.1174,1)" x="0" y="0" style="font-family:'Liberation Sans', Arial, sans-serif;font-weight:bold;font-size:23.00px" fill="#000">—</text>
<text transform="translate(0,1226.00) scale(0.9252,1)" x="87.60 124.51" y="0" style="font-family:'Liberation Sans', Arial, sans-serif;font-weight:bold;font-size:54.06px" fill="#000">NV</text>
<text transform="translate(0,1203.34) scale(0.9858,1)" x="149.38" y="0" style="font-family:'Liberation Sans', Arial, sans-serif;font-weight:bold;font-size:36.36px" fill="#000">o</text>
<text transform="translate(0,108.69) scale(0.9560,1)" x="564.19 593.55 605.79" y="0" style="font-family:'Liberation Sans', Arial, sans-serif;font-weight:bold;font-size:50.61px" fill="#000">SiV</text>
<text transform="translate(0,647.69) scale(0.9935,1)" x="549.56 581.04 592.86" y="0" style="font-family:'Liberation Sans', Arial, sans-serif;font-weight:bold;font-size:51.02px" fill="#000">SiV</text>
<text transform="translate(0,1160.99) scale(1.0030,1)" x="540.72 570.39 583.62" y="0" style="font-family:'Liberation Sans', Arial, sans-serif;font-weight:bold;font-size:51.02px" fill="#000">SiV</text>
<rect x="719.1" y="448.4" width="198.0" height="10.7" fill="#fff"/>
<text transform="translate(719.84,429.12) scale(0.9623,1)" x="0" y="0" style="font-family:'Liberation Sans', Arial, sans-serif;font-weight:bold;font-size:57.57px" fill="#fff">5</text>
<text transform="translate(762.92,430.65) scale(1.1854,1)" x="0" y="0" style="font-family:'Liberation Sans', Arial, sans-serif;font-weight:normal;font-size:52.92px" fill="#fff">μ</text>
<text transform="translate(798.32,429.70) scale(0.9920,1)" x="0" y="0" style="font-family:'Liberation Sans', Arial, sans-serif;font-weight:bold;font-size:57.04px" fill="#fff">m</text>
<rect x="719.1" y="938.7" width="197.7" height="9.9" fill="#fff"/>
<text transform="translate(719.84,927.11) scale(0.9436,1)" x="0" y="0" style="font-family:'Liberation Sans', Arial, sans-serif;font-weight:bold;font-size:58.71px" fill="#fff">5</text>
<text transform="translate(762.92,927.52) scale(1.2306,1)" x="0" y="0" style="font-family:'Liberation Sans', Arial, sans-serif;font-weight:normal;font-size:50.97px" fill="#fff">μ</text>
<text transform="translate(798.32,927.00) scale(1.0150,1)" x="0" y="0" style="font-family:'Liberation Sans', Arial, sans-serif;font-weight:bold;font-size:55.74px" fill="#fff">m</text>
<rect x="719.1" y="1445.7" width="197.7" height="9.4" fill="#fff"/>
<text transform="translate(719.84,1428.53) scale(0.9793,1)" x="0" y="0" style="font-family:'Liberation Sans', Arial, sans-serif;font-weight:bold;font-size:56.57px" fill="#fff">5</text>
<text transform="translate(762.92,1429.53) scale(1.2076,1)" x="0" y="0" style="font-family:'Liberation Sans', Arial, sans-serif;font-weight:normal;font-size:51.94px" fill="#fff">μ</text>
<text transform="translate(798.32,1428.40) scale(1.0392,1)" x="0" y="0" style="font-family:'Liberation Sans', Arial, sans-serif;font-weight:bold;font-size:54.44px" fill="#fff">m</text>
<text transform="translate(0,49.69) scale(0.9103,1)" x="1390.87 1414.94 1427.93 1450.57 1461.66 1488.81 1502.92 1527.34" y="0" style="font-family:'Liberation Sans', Arial, sans-serif;font-weight:bold;font-size:40.70px" fill="#000">1.7 X 10</text><text transform="translate(0,37.90) scale(0.9000,1)" x="1568.67" y="0" style="font-family:'Liberation Sans', Arial, sans-serif;font-weight:bold;font-size:25.80px" fill="#000" >5</text>
<text transform="translate(0,187.92) scale(0.9816,1)" x="1289.80 1312.13 1324.55 1345.54 1355.44 1380.62 1393.71 1416.35" y="0" style="font-family:'Liberation Sans', Arial, sans-serif;font-weight:bold;font-size:37.75px" fill="#000">1.2 X 10</text><text transform="translate(0,176.91) scale(0.9000,1)" x="1568.73" y="0" style="font-family:'Liberation Sans', Arial, sans-serif;font-weight:bold;font-size:23.93px" fill="#000" >5</text>
<text transform="translate(0,326.42) scale(0.9816,1)" x="1287.77 1308.97 1321.39 1342.39 1352.29 1377.46 1390.55 1413.19" y="0" style="font-family:'Liberation Sans', Arial, sans-serif;font-weight:bold;font-size:37.75px" fill="#000">6.2 X 10</text><text transform="translate(0,315.65) scale(0.9000,1)" x="1567.41" y="0" style="font-family:'Liberation Sans', Arial, sans-serif;font-weight:bold;font-size:24.28px" fill="#000" >4</text>
<text transform="translate(0,470.41) scale(0.9463,1)" x="1336.02 1357.81 1370.50 1392.28 1402.75 1428.86 1442.44 1465.93" y="0" style="font-family:'Liberation Sans', Arial, sans-serif;font-weight:bold;font-size:39.15px" fill="#000">5.0 X 10</text><text transform="translate(0,459.03) scale(0.9000,1)" x="1567.17" y="0" style="font-family:'Liberation Sans', Arial, sans-serif;font-weight:bold;font-size:24.47px" fill="#000" >3</text>
<text transform="translate(0,551.32) scale(0.9708,1)" x="1303.74 1325.17 1337.54 1358.77 1368.97 1394.43 1407.66 1430.56" y="0" style="font-family:'Liberation Sans', Arial, sans-serif;font-weight:bold;font-size:38.17px" fill="#000">6.0 X 10</text><text transform="translate(0,540.44) scale(0.9000,1)" x="1569.08" y="0" style="font-family:'Liberation Sans', Arial, sans-serif;font-weight:bold;font-size:24.55px" fill="#000" >4</text>
<text transform="translate(0,691.91) scale(0.9497,1)" x="1331.80 1352.93 1365.77 1387.47 1397.70 1423.72 1437.25 1460.65" y="0" style="font-family:'Liberation Sans', Arial, sans-serif;font-weight:bold;font-size:39.01px" fill="#000">4.9 X 10</text><text transform="translate(0,680.81) scale(0.9000,1)" x="1567.40" y="0" style="font-family:'Liberation Sans', Arial, sans-serif;font-weight:bold;font-size:25.09px" fill="#000" >4</text>
<text transform="translate(0,835.01) scale(0.9497,1)" x="1331.41 1352.93 1365.38 1387.08 1397.70 1423.72 1437.25 1460.65" y="0" style="font-family:'Liberation Sans', Arial, sans-serif;font-weight:bold;font-size:39.01px" fill="#000">3.7 X 10</text><text transform="translate(0,823.91) scale(0.9000,1)" x="1567.40" y="0" style="font-family:'Liberation Sans', Arial, sans-serif;font-weight:bold;font-size:25.09px" fill="#000" >4</text>
<text transform="translate(0,973.41) scale(0.9463,1)" x="1335.83 1357.81 1370.89 1392.67 1402.75 1428.86 1442.44 1465.93" y="0" style="font-family:'Liberation Sans', Arial, sans-serif;font-weight:bold;font-size:39.15px" fill="#000">2.5 X 10</text><text transform="translate(0,962.27) scale(0.9000,1)" x="1567.40" y="0" style="font-family:'Liberation Sans', Arial, sans-serif;font-weight:bold;font-size:25.18px" fill="#000" >4</text>
<text transform="translate(0,1051.34) scale(1.0000,1)" x="1268.25 1290.17 1302.33 1322.46 1332.64 1356.78 1370.25 1392.45" y="0" style="font-family:'Liberation Sans', Arial, sans-serif;font-weight:bold;font-size:36.20px" fill="#000">1.9 X 10</text><text transform="translate(0,1040.96) scale(0.9000,1)" x="1570.87" y="0" style="font-family:'Liberation Sans', Arial, sans-serif;font-weight:bold;font-size:23.28px" fill="#000" >4</text>
<text transform="translate(0,1187.94) scale(1.0000,1)" x="1272.28 1294.21 1306.71 1326.53 1336.64 1360.41 1374.28 1396.47" y="0" style="font-family:'Liberation Sans', Arial, sans-serif;font-weight:bold;font-size:35.63px" fill="#000">1.3 X 10</text><text transform="translate(0,1177.71) scale(0.9000,1)" x="1574.32" y="0" style="font-family:'Liberation Sans', Arial, sans-serif;font-weight:bold;font-size:22.92px" fill="#000" >4</text>
<text transform="translate(0,1336.63) scale(1.0000,1)" x="1268.11 1288.92 1301.11 1321.63 1331.43 1356.05 1369.00 1391.22" y="0" style="font-family:'Liberation Sans', Arial, sans-serif;font-weight:bold;font-size:36.90px" fill="#000">6.9 X 10</text><text transform="translate(0,1325.84) scale(0.9000,1)" x="1570.65" y="0" style="font-family:'Liberation Sans', Arial, sans-serif;font-weight:bold;font-size:23.06px" fill="#000" >3</text>
<text transform="translate(1252.89,1490.25) scale(1.0045,1)" x="0" y="0" style="font-family:'Liberation Sans', Arial, sans-serif;font-weight:bold;font-size:35.21px" fill="#000">0</text>
<text transform="translate(1456.30,175.30) rotate(90)" x="-3.67" y="0" style="font-family:'Liberation Sans', Arial, sans-serif;font-weight:bold;font-size:56.50px;letter-spacing:-0.99px" fill="#000" >P.C.S</text>
<text transform="translate(1453.50,683.50) rotate(90)" x="-3.67" y="0" style="font-family:'Liberation Sans', Arial, sans-serif;font-weight:bold;font-size:56.50px;letter-spacing:-0.99px" fill="#000" >P.C.S</text>
<text transform="translate(1452.50,1163.50) rotate(90)" x="-3.67" y="0" style="font-family:'Liberation Sans', Arial, sans-serif;font-weight:bold;font-size:56.50px;letter-spacing:-0.99px" fill="#000" >P.C.S</text>
</svg>
</body></html>
